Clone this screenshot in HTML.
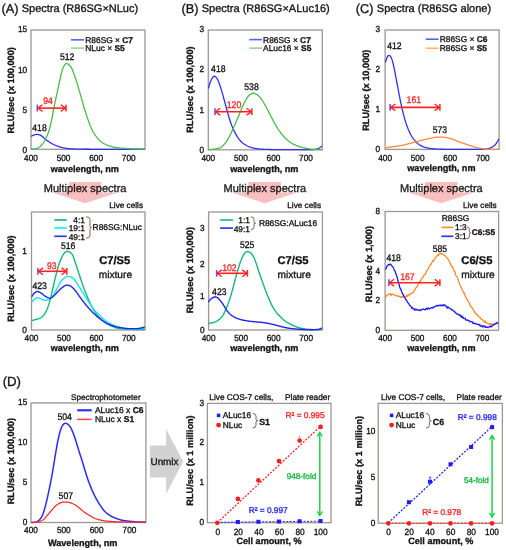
<!DOCTYPE html>
<html><head><meta charset="utf-8"><style>
html,body{margin:0;padding:0;background:#fff;}
svg{display:block;}
text{font-family:"Liberation Sans", sans-serif;stroke-width:0.32;paint-order:stroke;text-rendering:geometricPrecision;}
</style></head><body>
<svg width="506" height="550" viewBox="0 0 506 550">
<defs><filter id="bl" x="0" y="0" width="1" height="1"><feGaussianBlur stdDeviation="0.4"/></filter></defs>
<rect width="506" height="550" fill="#fff"/>
<g filter="url(#bl)">
<text x="1.40" y="12.56" font-size="12.75" text-anchor="start" fill="#141414" stroke="#141414">(A)</text>
<text x="21.70" y="11.94" font-size="11" text-anchor="start" fill="#141414" stroke="#141414">Spectra (R86SG×NLuc)</text>
<text x="181.40" y="12.56" font-size="12.75" text-anchor="start" fill="#141414" stroke="#141414">(B)</text>
<text x="201.70" y="11.94" font-size="11" text-anchor="start" fill="#141414" stroke="#141414">Spectra (R86SG×ALuc16)</text>
<text x="355.80" y="12.56" font-size="12.75" text-anchor="start" fill="#141414" stroke="#141414">(C)</text>
<text x="376.80" y="11.94" font-size="11" text-anchor="start" fill="#141414" stroke="#141414">Spectra (R86SG alone)</text>
<text transform="translate(27.20,32.19) scale(0.93,1)" x="0" y="0" font-size="8.9" text-anchor="end" fill="#141414" stroke="#141414">15</text>
<text transform="translate(27.20,72.59) scale(0.93,1)" x="0" y="0" font-size="8.9" text-anchor="end" fill="#141414" stroke="#141414">10</text>
<text transform="translate(27.20,112.89) scale(0.93,1)" x="0" y="0" font-size="8.9" text-anchor="end" fill="#141414" stroke="#141414">5</text>
<text transform="translate(27.20,152.89) scale(0.93,1)" x="0" y="0" font-size="8.9" text-anchor="end" fill="#141414" stroke="#141414">0</text>
<text transform="translate(31.00,161.39) scale(0.93,1)" x="0" y="0" font-size="8.9" text-anchor="middle" fill="#141414" stroke="#141414">400</text>
<text transform="translate(63.57,161.39) scale(0.93,1)" x="0" y="0" font-size="8.9" text-anchor="middle" fill="#141414" stroke="#141414">500</text>
<text transform="translate(96.14,161.39) scale(0.93,1)" x="0" y="0" font-size="8.9" text-anchor="middle" fill="#141414" stroke="#141414">600</text>
<text transform="translate(128.71,161.39) scale(0.93,1)" x="0" y="0" font-size="8.9" text-anchor="middle" fill="#141414" stroke="#141414">700</text>
<text transform="translate(14.29,90.30) rotate(-90)" x="0" y="0" font-size="9.2" text-anchor="middle" fill="#141414" stroke="#141414" font-weight="bold">RLU/sec (x 100,000)</text>
<text x="50.70" y="171.76" font-size="9.1" text-anchor="start" fill="#141414" stroke="#141414" font-weight="bold">wavelength, nm</text>
<rect x="31.00" y="30.00" width="114.00" height="119.30" fill="none" stroke="#9e9691" stroke-width="1.3"/>
<path d="M31.20,136.40 L31.70,136.09 L32.20,135.79 L32.70,135.53 L33.20,135.31 L33.70,135.13 L34.20,134.97 L34.70,134.80 L35.20,134.66 L35.70,134.54 L36.20,134.45 L36.70,134.40 L37.20,134.41 L37.70,134.45 L38.20,134.53 L38.70,134.64 L39.20,134.77 L39.70,134.91 L40.20,135.07 L40.70,135.30 L41.20,135.61 L41.70,135.98 L42.20,136.40 L42.70,136.85 L43.20,137.31 L43.70,137.76 L44.20,138.20 L44.70,138.60 L45.20,138.98 L45.70,139.37 L46.20,139.75 L46.70,140.14 L47.20,140.52 L47.70,140.89 L48.20,141.25 L48.70,141.60 L49.20,141.93 L49.70,142.26 L50.20,142.58 L50.70,142.89 L51.20,143.19 L51.70,143.49 L52.20,143.77 L52.70,144.04 L53.20,144.30 L53.70,144.54 L54.20,144.78 L54.70,145.00 L55.20,145.22 L55.70,145.43 L56.20,145.63 L56.70,145.83 L57.20,146.01 L57.70,146.19 L58.20,146.37 L58.70,146.54 L59.20,146.71 L59.70,146.87 L60.20,147.03 L60.70,147.18 L61.20,147.32 L61.70,147.45 L62.20,147.58 L62.70,147.69 L63.20,147.81 L63.70,147.91 L64.20,148.02 L64.70,148.11 L65.20,148.20 L65.70,148.29 L66.20,148.36 L66.70,148.42 L67.20,148.48 L67.70,148.54 L68.20,148.60 L68.70,148.65 L69.20,148.69 L69.70,148.74 L70.20,148.78 L70.70,148.82 L71.20,148.85 L71.70,148.88 L72.20,148.91 L72.70,148.94 L73.20,148.96 L73.70,148.99 L74.20,149.01 L74.70,149.04 L75.20,149.06 L75.70,149.08 L76.20,149.10 L76.70,149.12 L77.20,149.14 L77.70,149.15 L78.20,149.17 L78.70,149.18 L79.20,149.19 L79.70,149.20 L80.20,149.20 L80.70,149.21 L81.20,149.21 L81.70,149.22 L82.20,149.22 L82.70,149.22 L83.20,149.23 L83.70,149.23 L84.20,149.24 L84.70,149.24 L85.20,149.24 L85.70,149.25 L86.20,149.25 L86.70,149.26 L87.20,149.26 L87.70,149.26 L88.20,149.26 L88.70,149.27 L89.20,149.27 L89.70,149.27 L90.20,149.28 L90.70,149.28 L91.20,149.28 L91.70,149.28 L92.20,149.28 L92.70,149.29 L93.20,149.29 L93.70,149.29 L94.20,149.29 L94.70,149.29 L95.20,149.29 L95.70,149.30 L96.20,149.30 L96.70,149.30 L97.20,149.30 L97.70,149.30 L98.20,149.30 L98.70,149.30 L99.20,149.30 L99.70,149.30 L100.20,149.30 L100.70,149.30 L101.20,149.30 L101.70,149.30 L102.20,149.30 L102.70,149.30 L103.20,149.30 L103.70,149.30 L104.20,149.30 L104.70,149.30 L105.20,149.30 L105.70,149.30 L106.20,149.30 L106.70,149.30 L107.20,149.30 L107.70,149.30 L108.20,149.30 L108.70,149.30 L109.20,149.30 L109.70,149.30 L110.20,149.30 L110.70,149.30 L111.20,149.30 L111.70,149.30 L112.20,149.30 L112.70,149.30 L113.20,149.30 L113.70,149.30 L114.20,149.30 L114.70,149.30 L115.20,149.30 L115.70,149.30 L116.20,149.30 L116.70,149.30 L117.20,149.30 L117.70,149.30 L118.20,149.30 L118.70,149.30 L119.20,149.30 L119.70,149.30 L120.20,149.30 L120.70,149.30 L121.20,149.30 L121.70,149.30 L122.20,149.30 L122.70,149.30 L123.20,149.30 L123.70,149.30 L124.20,149.30 L124.70,149.30 L125.20,149.30 L125.70,149.30 L126.20,149.30 L126.70,149.30 L127.20,149.30 L127.70,149.30 L128.20,149.30 L128.70,149.30 L129.20,149.30 L129.70,149.30 L130.20,149.30 L130.70,149.30 L131.20,149.30 L131.70,149.30 L132.20,149.30 L132.70,149.30 L133.20,149.30 L133.70,149.30 L134.20,149.30 L134.70,149.30 L135.20,149.30 L135.70,149.30 L136.20,149.30 L136.70,149.30 L137.20,149.30 L137.70,149.30 L138.20,149.30 L138.70,149.30 L139.20,149.30 L139.70,149.30 L140.20,149.30 L140.70,149.30 L141.20,149.30 L141.70,149.30 L142.20,149.30 L142.70,149.30 L143.20,149.30 L143.70,149.30 L144.20,149.30 L144.70,149.30" fill="none" stroke="#2f2fff" stroke-width="1.3" stroke-linejoin="round"/>
<path d="M31.20,149.20 L31.70,149.19 L32.20,149.16 L32.70,149.12 L33.20,149.07 L33.70,149.01 L34.20,148.94 L34.70,148.87 L35.20,148.79 L35.70,148.68 L36.20,148.55 L36.70,148.41 L37.20,148.24 L37.70,148.06 L38.20,147.83 L38.70,147.55 L39.20,147.22 L39.70,146.84 L40.20,146.43 L40.70,145.98 L41.20,145.50 L41.70,145.00 L42.20,144.44 L42.70,143.80 L43.20,143.09 L43.70,142.31 L44.20,141.47 L44.70,140.58 L45.20,139.65 L45.70,138.69 L46.20,137.70 L46.70,136.63 L47.20,135.49 L47.70,134.26 L48.20,132.94 L48.70,131.52 L49.20,129.98 L49.70,128.23 L50.20,126.25 L50.70,124.11 L51.20,121.87 L51.70,119.56 L52.20,117.03 L52.70,114.35 L53.20,111.61 L53.70,108.93 L54.20,106.41 L54.70,103.98 L55.20,101.61 L55.70,99.26 L56.20,96.93 L56.70,94.60 L57.20,92.30 L57.70,90.02 L58.20,87.73 L58.70,85.43 L59.20,83.08 L59.70,80.66 L60.20,78.29 L60.70,76.07 L61.20,73.92 L61.70,71.90 L62.20,70.20 L62.70,68.78 L63.20,67.52 L63.70,66.49 L64.20,65.71 L64.70,65.00 L65.20,64.36 L65.70,63.86 L66.20,63.55 L66.70,63.51 L67.20,63.62 L67.70,63.84 L68.20,64.16 L68.70,64.55 L69.20,65.01 L69.70,65.52 L70.20,66.05 L70.70,66.62 L71.20,67.36 L71.70,68.32 L72.20,69.44 L72.70,70.69 L73.20,72.01 L73.70,73.35 L74.20,74.66 L74.70,76.02 L75.20,77.46 L75.70,78.97 L76.20,80.52 L76.70,82.11 L77.20,83.71 L77.70,85.32 L78.20,86.96 L78.70,88.63 L79.20,90.34 L79.70,92.07 L80.20,93.81 L80.70,95.56 L81.20,97.30 L81.70,99.07 L82.20,100.87 L82.70,102.69 L83.20,104.51 L83.70,106.29 L84.20,108.03 L84.70,109.70 L85.20,111.31 L85.70,112.88 L86.20,114.41 L86.70,115.91 L87.20,117.38 L87.70,118.81 L88.20,120.20 L88.70,121.58 L89.20,122.95 L89.70,124.30 L90.20,125.61 L90.70,126.86 L91.20,128.03 L91.70,129.10 L92.20,130.09 L92.70,131.03 L93.20,131.92 L93.70,132.77 L94.20,133.57 L94.70,134.33 L95.20,135.06 L95.70,135.76 L96.20,136.45 L96.70,137.12 L97.20,137.78 L97.70,138.41 L98.20,139.02 L98.70,139.59 L99.20,140.13 L99.70,140.63 L100.20,141.08 L100.70,141.48 L101.20,141.85 L101.70,142.21 L102.20,142.55 L102.70,142.87 L103.20,143.18 L103.70,143.48 L104.20,143.76 L104.70,144.03 L105.20,144.28 L105.70,144.52 L106.20,144.74 L106.70,144.95 L107.20,145.15 L107.70,145.34 L108.20,145.51 L108.70,145.69 L109.20,145.86 L109.70,146.02 L110.20,146.18 L110.70,146.33 L111.20,146.48 L111.70,146.62 L112.20,146.76 L112.70,146.89 L113.20,147.01 L113.70,147.12 L114.20,147.23 L114.70,147.33 L115.20,147.42 L115.70,147.50 L116.20,147.57 L116.70,147.64 L117.20,147.70 L117.70,147.76 L118.20,147.82 L118.70,147.87 L119.20,147.93 L119.70,147.98 L120.20,148.03 L120.70,148.08 L121.20,148.13 L121.70,148.17 L122.20,148.22 L122.70,148.26 L123.20,148.30 L123.70,148.34 L124.20,148.38 L124.70,148.41 L125.20,148.45 L125.70,148.48 L126.20,148.51 L126.70,148.54 L127.20,148.57 L127.70,148.59 L128.20,148.62 L128.70,148.64 L129.20,148.67 L129.70,148.69 L130.20,148.71 L130.70,148.73 L131.20,148.75 L131.70,148.77 L132.20,148.79 L132.70,148.81 L133.20,148.83 L133.70,148.85 L134.20,148.86 L134.70,148.88 L135.20,148.90 L135.70,148.92 L136.20,148.93 L136.70,148.95 L137.20,148.97 L137.70,148.98 L138.20,149.00 L138.70,149.01 L139.20,149.02 L139.70,149.03 L140.20,149.05 L140.70,149.06 L141.20,149.07 L141.70,149.07 L142.20,149.08 L142.70,149.09 L143.20,149.09 L143.70,149.10 L144.20,149.10 L144.70,149.10" fill="none" stroke="#48bd48" stroke-width="1.3" stroke-linejoin="round"/>
<line x1="71.00" y1="39.85" x2="84.00" y2="39.85" stroke="#5d5dff" stroke-width="1.6"/>
<line x1="71.00" y1="48.10" x2="84.00" y2="48.10" stroke="#6cc86c" stroke-width="1.2"/>
<text x="85.30" y="42.61" font-size="8.4" fill="#141414" stroke="#141414" xml:space="preserve"><tspan>R86SG × </tspan><tspan font-weight="bold">C7</tspan></text>
<text x="85.30" y="50.91" font-size="8.4" fill="#141414" stroke="#141414" xml:space="preserve"><tspan>NLuc × </tspan><tspan font-weight="bold">S5</tspan></text>
<text transform="translate(67.10,60.14) scale(0.9,1)" x="0" y="0" font-size="9.6" text-anchor="middle" fill="#141414" stroke="#141414">512</text>
<text transform="translate(39.50,130.94) scale(0.9,1)" x="0" y="0" font-size="9.6" text-anchor="middle" fill="#141414" stroke="#141414">418</text>
<line x1="37.30" y1="108.10" x2="66.00" y2="108.10" stroke="#ff2424" stroke-width="1.6"/>
<path d="M42.50,104.70 L37.90,108.10 L42.50,111.50" fill="none" stroke="#ff2424" stroke-width="1.4"/>
<path d="M60.80,104.70 L65.40,108.10 L60.80,111.50" fill="none" stroke="#ff2424" stroke-width="1.4"/>
<line x1="37.30" y1="104.70" x2="37.30" y2="111.50" stroke="#7b3fd0" stroke-width="1.5"/>
<line x1="66.00" y1="104.70" x2="66.00" y2="111.50" stroke="#ff2424" stroke-width="1.5"/>
<text transform="translate(48.10,104.34) scale(0.9,1)" x="0" y="0" font-size="9.6" text-anchor="middle" fill="#ff2424" stroke="#ff2424" stroke-width="0.12">94</text>
<text transform="translate(204.00,32.29) scale(0.93,1)" x="0" y="0" font-size="8.9" text-anchor="end" fill="#141414" stroke="#141414">3</text>
<text transform="translate(204.00,72.39) scale(0.93,1)" x="0" y="0" font-size="8.9" text-anchor="end" fill="#141414" stroke="#141414">2</text>
<text transform="translate(204.00,112.89) scale(0.93,1)" x="0" y="0" font-size="8.9" text-anchor="end" fill="#141414" stroke="#141414">1</text>
<text transform="translate(204.00,153.09) scale(0.93,1)" x="0" y="0" font-size="8.9" text-anchor="end" fill="#141414" stroke="#141414">0</text>
<text transform="translate(208.30,161.49) scale(0.93,1)" x="0" y="0" font-size="8.9" text-anchor="middle" fill="#141414" stroke="#141414">400</text>
<text transform="translate(240.87,161.49) scale(0.93,1)" x="0" y="0" font-size="8.9" text-anchor="middle" fill="#141414" stroke="#141414">500</text>
<text transform="translate(273.44,161.49) scale(0.93,1)" x="0" y="0" font-size="8.9" text-anchor="middle" fill="#141414" stroke="#141414">600</text>
<text transform="translate(306.01,161.49) scale(0.93,1)" x="0" y="0" font-size="8.9" text-anchor="middle" fill="#141414" stroke="#141414">700</text>
<text transform="translate(193.39,89.60) rotate(-90)" x="0" y="0" font-size="9.2" text-anchor="middle" fill="#141414" stroke="#141414" font-weight="bold">RLU/sec (x 100,000)</text>
<text x="230.20" y="171.56" font-size="9.1" text-anchor="start" fill="#141414" stroke="#141414" font-weight="bold">wavelength, nm</text>
<rect x="208.30" y="30.00" width="114.00" height="119.80" fill="none" stroke="#9e9691" stroke-width="1.3"/>
<path d="M208.40,88.50 L208.90,86.62 L209.40,84.85 L209.90,83.24 L210.40,81.84 L210.90,80.70 L211.40,79.74 L211.90,78.80 L212.40,77.92 L212.90,77.16 L213.40,76.57 L213.90,76.20 L214.40,76.11 L214.90,76.27 L215.40,76.63 L215.90,77.14 L216.40,77.73 L216.90,78.37 L217.40,79.10 L217.90,80.05 L218.40,81.19 L218.90,82.48 L219.40,83.85 L219.90,85.26 L220.40,86.67 L220.90,88.21 L221.40,89.86 L221.90,91.59 L222.40,93.37 L222.90,95.15 L223.40,96.93 L223.90,98.77 L224.40,100.64 L224.90,102.53 L225.40,104.42 L225.90,106.29 L226.40,108.14 L226.90,110.00 L227.40,111.87 L227.90,113.71 L228.40,115.49 L228.90,117.18 L229.40,118.77 L229.90,120.32 L230.40,121.81 L230.90,123.25 L231.40,124.62 L231.90,125.91 L232.40,127.12 L232.90,128.27 L233.40,129.37 L233.90,130.42 L234.40,131.42 L234.90,132.39 L235.40,133.32 L235.90,134.22 L236.40,135.11 L236.90,135.97 L237.40,136.81 L237.90,137.60 L238.40,138.34 L238.90,139.02 L239.40,139.64 L239.90,140.23 L240.40,140.78 L240.90,141.31 L241.40,141.81 L241.90,142.28 L242.40,142.73 L242.90,143.14 L243.40,143.53 L243.90,143.89 L244.40,144.24 L244.90,144.57 L245.40,144.89 L245.90,145.20 L246.40,145.49 L246.90,145.76 L247.40,146.02 L247.90,146.26 L248.40,146.48 L248.90,146.68 L249.40,146.87 L249.90,147.05 L250.40,147.23 L250.90,147.39 L251.40,147.55 L251.90,147.70 L252.40,147.83 L252.90,147.96 L253.40,148.08 L253.90,148.18 L254.40,148.28 L254.90,148.37 L255.40,148.46 L255.90,148.55 L256.40,148.63 L256.90,148.71 L257.40,148.78 L257.90,148.85 L258.40,148.91 L258.90,148.97 L259.40,149.02 L259.90,149.06 L260.40,149.09 L260.90,149.12 L261.40,149.15 L261.90,149.17 L262.40,149.20 L262.90,149.22 L263.40,149.25 L263.90,149.27 L264.40,149.29 L264.90,149.32 L265.40,149.34 L265.90,149.36 L266.40,149.38 L266.90,149.40 L267.40,149.42 L267.90,149.43 L268.40,149.45 L268.90,149.47 L269.40,149.48 L269.90,149.50 L270.40,149.51 L270.90,149.52 L271.40,149.53 L271.90,149.54 L272.40,149.55 L272.90,149.56 L273.40,149.57 L273.90,149.58 L274.40,149.58 L274.90,149.59 L275.40,149.59 L275.90,149.60 L276.40,149.60 L276.90,149.60 L277.40,149.60 L277.90,149.60 L278.40,149.60 L278.90,149.60 L279.40,149.60 L279.90,149.60 L280.40,149.60 L280.90,149.60 L281.40,149.60 L281.90,149.60 L282.40,149.60 L282.90,149.60 L283.40,149.60 L283.90,149.60 L284.40,149.60 L284.90,149.60 L285.40,149.60 L285.90,149.60 L286.40,149.60 L286.90,149.60 L287.40,149.60 L287.90,149.60 L288.40,149.60 L288.90,149.60 L289.40,149.60 L289.90,149.60 L290.40,149.60 L290.90,149.60 L291.40,149.60 L291.90,149.60 L292.40,149.60 L292.90,149.60 L293.40,149.60 L293.90,149.60 L294.40,149.60 L294.90,149.60 L295.40,149.60 L295.90,149.60 L296.40,149.60 L296.90,149.60 L297.40,149.60 L297.90,149.60 L298.40,149.60 L298.90,149.60 L299.40,149.60 L299.90,149.60 L300.40,149.60 L300.90,149.60 L301.40,149.60 L301.90,149.60 L302.40,149.60 L302.90,149.60 L303.40,149.60 L303.90,149.60 L304.40,149.60 L304.90,149.60 L305.40,149.60 L305.90,149.60 L306.40,149.60 L306.90,149.60 L307.40,149.60 L307.90,149.60 L308.40,149.60 L308.90,149.60 L309.40,149.60 L309.90,149.60 L310.40,149.60 L310.90,149.60 L311.40,149.60 L311.90,149.60 L312.40,149.60 L312.90,149.60 L313.40,149.57 L313.90,149.53 L314.40,149.46 L314.90,149.38 L315.40,149.28 L315.90,149.17 L316.40,149.05 L316.90,148.93 L317.40,148.79 L317.90,148.61 L318.40,148.39 L318.90,148.14 L319.40,147.85 L319.90,147.54 L320.40,147.20 L320.90,146.83 L321.40,146.45 L321.90,146.05" fill="none" stroke="#2f2fff" stroke-width="1.3" stroke-linejoin="round"/>
<path d="M208.40,149.60 L208.90,149.58 L209.40,149.56 L209.90,149.53 L210.40,149.49 L210.90,149.45 L211.40,149.40 L211.90,149.35 L212.40,149.29 L212.90,149.24 L213.40,149.18 L213.90,149.11 L214.40,149.05 L214.90,148.98 L215.40,148.90 L215.90,148.82 L216.40,148.73 L216.90,148.63 L217.40,148.52 L217.90,148.40 L218.40,148.27 L218.90,148.13 L219.40,147.98 L219.90,147.81 L220.40,147.62 L220.90,147.37 L221.40,147.05 L221.90,146.67 L222.40,146.25 L222.90,145.77 L223.40,145.27 L223.90,144.73 L224.40,144.18 L224.90,143.61 L225.40,143.02 L225.90,142.36 L226.40,141.64 L226.90,140.86 L227.40,140.04 L227.90,139.18 L228.40,138.29 L228.90,137.38 L229.40,136.46 L229.90,135.53 L230.40,134.55 L230.90,133.53 L231.40,132.47 L231.90,131.38 L232.40,130.27 L232.90,129.14 L233.40,128.00 L233.90,126.86 L234.40,125.73 L234.90,124.59 L235.40,123.45 L235.90,122.29 L236.40,121.12 L236.90,119.94 L237.40,118.76 L237.90,117.58 L238.40,116.39 L238.90,115.21 L239.40,114.03 L239.90,112.82 L240.40,111.60 L240.90,110.38 L241.40,109.17 L241.90,107.97 L242.40,106.82 L242.90,105.71 L243.40,104.65 L243.90,103.59 L244.40,102.56 L244.90,101.57 L245.40,100.62 L245.90,99.74 L246.40,98.95 L246.90,98.17 L247.40,97.42 L247.90,96.71 L248.40,96.06 L248.90,95.51 L249.40,95.07 L249.90,94.73 L250.40,94.39 L250.90,94.07 L251.40,93.79 L251.90,93.55 L252.40,93.36 L252.90,93.24 L253.40,93.20 L253.90,93.24 L254.40,93.35 L254.90,93.53 L255.40,93.74 L255.90,94.00 L256.40,94.27 L256.90,94.54 L257.40,94.85 L257.90,95.22 L258.40,95.65 L258.90,96.13 L259.40,96.65 L259.90,97.21 L260.40,97.78 L260.90,98.39 L261.40,99.06 L261.90,99.79 L262.40,100.57 L262.90,101.39 L263.40,102.23 L263.90,103.09 L264.40,103.96 L264.90,104.83 L265.40,105.70 L265.90,106.60 L266.40,107.53 L266.90,108.48 L267.40,109.45 L267.90,110.42 L268.40,111.40 L268.90,112.38 L269.40,113.35 L269.90,114.31 L270.40,115.26 L270.90,116.22 L271.40,117.19 L271.90,118.16 L272.40,119.12 L272.90,120.07 L273.40,121.01 L273.90,121.93 L274.40,122.82 L274.90,123.70 L275.40,124.56 L275.90,125.42 L276.40,126.27 L276.90,127.11 L277.40,127.92 L277.90,128.72 L278.40,129.49 L278.90,130.24 L279.40,130.96 L279.90,131.65 L280.40,132.34 L280.90,133.01 L281.40,133.66 L281.90,134.30 L282.40,134.92 L282.90,135.52 L283.40,136.10 L283.90,136.66 L284.40,137.19 L284.90,137.70 L285.40,138.19 L285.90,138.66 L286.40,139.13 L286.90,139.58 L287.40,140.02 L287.90,140.45 L288.40,140.86 L288.90,141.26 L289.40,141.64 L289.90,142.01 L290.40,142.36 L290.90,142.69 L291.40,143.00 L291.90,143.30 L292.40,143.59 L292.90,143.87 L293.40,144.15 L293.90,144.41 L294.40,144.67 L294.90,144.92 L295.40,145.15 L295.90,145.38 L296.40,145.59 L296.90,145.79 L297.40,145.99 L297.90,146.17 L298.40,146.34 L298.90,146.50 L299.40,146.66 L299.90,146.81 L300.40,146.96 L300.90,147.10 L301.40,147.24 L301.90,147.37 L302.40,147.49 L302.90,147.62 L303.40,147.73 L303.90,147.85 L304.40,147.96 L304.90,148.06 L305.40,148.16 L305.90,148.26 L306.40,148.36 L306.90,148.45 L307.40,148.55 L307.90,148.64 L308.40,148.73 L308.90,148.82 L309.40,148.90 L309.90,148.98 L310.40,149.04 L310.90,149.10 L311.40,149.15 L311.90,149.19 L312.40,149.23 L312.90,149.26 L313.40,149.29 L313.90,149.32 L314.40,149.35 L314.90,149.38 L315.40,149.40 L315.90,149.43 L316.40,149.45 L316.90,149.48 L317.40,149.50 L317.90,149.52 L318.40,149.53 L318.90,149.55 L319.40,149.56 L319.90,149.57 L320.40,149.58 L320.90,149.59 L321.40,149.60 L321.90,149.60" fill="none" stroke="#48bd48" stroke-width="1.3" stroke-linejoin="round"/>
<line x1="249.40" y1="39.60" x2="262.00" y2="39.60" stroke="#5d5dff" stroke-width="1.6"/>
<line x1="249.40" y1="48.10" x2="262.00" y2="48.10" stroke="#6cc86c" stroke-width="1.2"/>
<text x="263.10" y="42.61" font-size="8.4" fill="#141414" stroke="#141414" xml:space="preserve"><tspan>R86SG × </tspan><tspan font-weight="bold">C7</tspan></text>
<text x="263.10" y="51.11" font-size="8.4" fill="#141414" stroke="#141414" xml:space="preserve"><tspan>ALuc16 × </tspan><tspan font-weight="bold">S5</tspan></text>
<text transform="translate(218.30,71.74) scale(0.9,1)" x="0" y="0" font-size="9.6" text-anchor="middle" fill="#141414" stroke="#141414">418</text>
<text transform="translate(251.50,90.04) scale(0.9,1)" x="0" y="0" font-size="9.6" text-anchor="middle" fill="#141414" stroke="#141414">538</text>
<line x1="215.00" y1="111.70" x2="251.80" y2="111.70" stroke="#ff2424" stroke-width="1.6"/>
<path d="M220.20,108.30 L215.60,111.70 L220.20,115.10" fill="none" stroke="#ff2424" stroke-width="1.4"/>
<path d="M246.60,108.30 L251.20,111.70 L246.60,115.10" fill="none" stroke="#ff2424" stroke-width="1.4"/>
<line x1="215.00" y1="108.30" x2="215.00" y2="115.10" stroke="#7b3fd0" stroke-width="1.5"/>
<line x1="251.80" y1="108.30" x2="251.80" y2="115.10" stroke="#ff2424" stroke-width="1.5"/>
<text transform="translate(234.00,107.84) scale(0.9,1)" x="0" y="0" font-size="9.6" text-anchor="middle" fill="#ff2424" stroke="#ff2424" stroke-width="0.12">120</text>
<text transform="translate(380.00,32.39) scale(0.93,1)" x="0" y="0" font-size="8.9" text-anchor="end" fill="#141414" stroke="#141414">3</text>
<text transform="translate(380.00,72.39) scale(0.93,1)" x="0" y="0" font-size="8.9" text-anchor="end" fill="#141414" stroke="#141414">2</text>
<text transform="translate(380.00,112.29) scale(0.93,1)" x="0" y="0" font-size="8.9" text-anchor="end" fill="#141414" stroke="#141414">1</text>
<text transform="translate(380.00,152.39) scale(0.93,1)" x="0" y="0" font-size="8.9" text-anchor="end" fill="#141414" stroke="#141414">0</text>
<text transform="translate(385.10,161.49) scale(0.93,1)" x="0" y="0" font-size="8.9" text-anchor="middle" fill="#141414" stroke="#141414">400</text>
<text transform="translate(417.67,161.49) scale(0.93,1)" x="0" y="0" font-size="8.9" text-anchor="middle" fill="#141414" stroke="#141414">500</text>
<text transform="translate(450.24,161.49) scale(0.93,1)" x="0" y="0" font-size="8.9" text-anchor="middle" fill="#141414" stroke="#141414">600</text>
<text transform="translate(482.81,161.49) scale(0.93,1)" x="0" y="0" font-size="8.9" text-anchor="middle" fill="#141414" stroke="#141414">700</text>
<text transform="translate(368.89,90.20) rotate(-90)" x="0" y="0" font-size="9.2" text-anchor="middle" fill="#141414" stroke="#141414" font-weight="bold">RLU/sec (x 10,000)</text>
<text x="407.30" y="171.06" font-size="9.1" text-anchor="start" fill="#141414" stroke="#141414" font-weight="bold">wavelength, nm</text>
<rect x="385.10" y="30.00" width="114.00" height="119.40" fill="none" stroke="#9e9691" stroke-width="1.3"/>
<path d="M385.40,62.40 L385.90,60.52 L386.40,58.90 L386.90,57.68 L387.40,56.82 L387.90,56.06 L388.40,55.51 L388.90,55.30 L389.40,55.46 L389.90,55.87 L390.40,56.43 L390.90,57.09 L391.40,58.08 L391.90,59.39 L392.40,60.89 L392.90,62.62 L393.40,64.74 L393.90,67.08 L394.40,69.46 L394.90,71.98 L395.40,74.62 L395.90,77.28 L396.40,79.90 L396.90,82.54 L397.40,85.19 L397.90,87.83 L398.40,90.50 L398.90,93.17 L399.40,95.78 L399.90,98.30 L400.40,100.77 L400.90,103.17 L401.40,105.50 L401.90,107.79 L402.40,110.03 L402.90,112.17 L403.40,114.19 L403.90,116.11 L404.40,117.93 L404.90,119.66 L405.40,121.31 L405.90,122.87 L406.40,124.35 L406.90,125.75 L407.40,127.10 L407.90,128.39 L408.40,129.62 L408.90,130.78 L409.40,131.87 L409.90,132.92 L410.40,133.92 L410.90,134.86 L411.40,135.73 L411.90,136.55 L412.40,137.33 L412.90,138.08 L413.40,138.79 L413.90,139.46 L414.40,140.09 L414.90,140.69 L415.40,141.25 L415.90,141.79 L416.40,142.31 L416.90,142.80 L417.40,143.26 L417.90,143.68 L418.40,144.06 L418.90,144.40 L419.40,144.73 L419.90,145.04 L420.40,145.34 L420.90,145.63 L421.40,145.89 L421.90,146.14 L422.40,146.38 L422.90,146.59 L423.40,146.79 L423.90,146.97 L424.40,147.13 L424.90,147.28 L425.40,147.44 L425.90,147.58 L426.40,147.72 L426.90,147.85 L427.40,147.97 L427.90,148.08 L428.40,148.18 L428.90,148.28 L429.40,148.36 L429.90,148.44 L430.40,148.50 L430.90,148.56 L431.40,148.61 L431.90,148.66 L432.40,148.71 L432.90,148.76 L433.40,148.81 L433.90,148.85 L434.40,148.90 L434.90,148.94 L435.40,148.97 L435.90,149.01 L436.40,149.04 L436.90,149.07 L437.40,149.10 L437.90,149.12 L438.40,149.15 L438.90,149.17 L439.40,149.18 L439.90,149.20 L440.40,149.21 L440.90,149.22 L441.40,149.23 L441.90,149.25 L442.40,149.26 L442.90,149.27 L443.40,149.28 L443.90,149.29 L444.40,149.30 L444.90,149.31 L445.40,149.32 L445.90,149.33 L446.40,149.33 L446.90,149.34 L447.40,149.35 L447.90,149.36 L448.40,149.36 L448.90,149.37 L449.40,149.37 L449.90,149.38 L450.40,149.38 L450.90,149.39 L451.40,149.39 L451.90,149.39 L452.40,149.40 L452.90,149.40 L453.40,149.40 L453.90,149.40 L454.40,149.40 L454.90,149.40 L455.40,149.40 L455.90,149.40 L456.40,149.40 L456.90,149.40 L457.40,149.40 L457.90,149.40 L458.40,149.40 L458.90,149.40 L459.40,149.40 L459.90,149.40 L460.40,149.40 L460.90,149.40 L461.40,149.40 L461.90,149.40 L462.40,149.40 L462.90,149.40 L463.40,149.40 L463.90,149.40 L464.40,149.40 L464.90,149.40 L465.40,149.40 L465.90,149.40 L466.40,149.40 L466.90,149.40 L467.40,149.40 L467.90,149.40 L468.40,149.40 L468.90,149.40 L469.40,149.40 L469.90,149.40 L470.40,149.40 L470.90,149.40 L471.40,149.40 L471.90,149.40 L472.40,149.40 L472.90,149.40 L473.40,149.40 L473.90,149.40 L474.40,149.40 L474.90,149.40 L475.40,149.40 L475.90,149.40 L476.40,149.40 L476.90,149.40 L477.40,149.40 L477.90,149.40 L478.40,149.40 L478.90,149.40 L479.40,149.40 L479.90,149.40 L480.40,149.40 L480.90,149.39 L481.40,149.37 L481.90,149.35 L482.40,149.32 L482.90,149.29 L483.40,149.25 L483.90,149.21 L484.40,149.16 L484.90,149.10 L485.40,149.05 L485.90,148.99 L486.40,148.92 L486.90,148.86 L487.40,148.79 L487.90,148.69 L488.40,148.57 L488.90,148.42 L489.40,148.25 L489.90,148.06 L490.40,147.85 L490.90,147.64 L491.40,147.42 L491.90,147.17 L492.40,146.90 L492.90,146.59 L493.40,146.26 L493.90,145.89 L494.40,145.49 L494.90,145.02 L495.40,144.45 L495.90,143.80 L496.40,143.09 L496.90,142.35 L497.40,141.58 L497.90,140.74 L498.40,139.84 L498.90,138.89" fill="none" stroke="#2f2fff" stroke-width="1.3" stroke-linejoin="round"/>
<path d="M385.40,147.80 L385.90,147.73 L386.40,147.66 L386.90,147.58 L387.40,147.51 L387.90,147.44 L388.40,147.37 L388.90,147.29 L389.40,147.22 L389.90,147.15 L390.40,147.08 L390.90,147.00 L391.40,146.93 L391.90,146.86 L392.40,146.79 L392.90,146.71 L393.40,146.64 L393.90,146.57 L394.40,146.50 L394.90,146.44 L395.40,146.37 L395.90,146.31 L396.40,146.24 L396.90,146.17 L397.40,146.11 L397.90,146.04 L398.40,145.97 L398.90,145.90 L399.40,145.83 L399.90,145.75 L400.40,145.67 L400.90,145.59 L401.40,145.51 L401.90,145.42 L402.40,145.32 L402.90,145.22 L403.40,145.12 L403.90,145.00 L404.40,144.88 L404.90,144.76 L405.40,144.64 L405.90,144.51 L406.40,144.38 L406.90,144.25 L407.40,144.11 L407.90,143.98 L408.40,143.85 L408.90,143.73 L409.40,143.60 L409.90,143.47 L410.40,143.34 L410.90,143.21 L411.40,143.08 L411.90,142.95 L412.40,142.81 L412.90,142.68 L413.40,142.55 L413.90,142.41 L414.40,142.28 L414.90,142.15 L415.40,142.01 L415.90,141.88 L416.40,141.75 L416.90,141.61 L417.40,141.48 L417.90,141.34 L418.40,141.21 L418.90,141.07 L419.40,140.94 L419.90,140.80 L420.40,140.67 L420.90,140.54 L421.40,140.41 L421.90,140.28 L422.40,140.15 L422.90,140.02 L423.40,139.90 L423.90,139.78 L424.40,139.66 L424.90,139.54 L425.40,139.41 L425.90,139.30 L426.40,139.18 L426.90,139.06 L427.40,138.95 L427.90,138.83 L428.40,138.72 L428.90,138.61 L429.40,138.51 L429.90,138.40 L430.40,138.30 L430.90,138.20 L431.40,138.09 L431.90,137.98 L432.40,137.87 L432.90,137.77 L433.40,137.66 L433.90,137.57 L434.40,137.48 L434.90,137.41 L435.40,137.35 L435.90,137.31 L436.40,137.27 L436.90,137.24 L437.40,137.22 L437.90,137.19 L438.40,137.17 L438.90,137.15 L439.40,137.13 L439.90,137.11 L440.40,137.10 L440.90,137.10 L441.40,137.10 L441.90,137.12 L442.40,137.15 L442.90,137.19 L443.40,137.25 L443.90,137.31 L444.40,137.37 L444.90,137.44 L445.40,137.51 L445.90,137.59 L446.40,137.66 L446.90,137.75 L447.40,137.84 L447.90,137.95 L448.40,138.06 L448.90,138.18 L449.40,138.31 L449.90,138.45 L450.40,138.59 L450.90,138.73 L451.40,138.88 L451.90,139.03 L452.40,139.19 L452.90,139.37 L453.40,139.57 L453.90,139.77 L454.40,139.98 L454.90,140.20 L455.40,140.42 L455.90,140.64 L456.40,140.85 L456.90,141.07 L457.40,141.27 L457.90,141.46 L458.40,141.65 L458.90,141.83 L459.40,142.00 L459.90,142.18 L460.40,142.35 L460.90,142.52 L461.40,142.68 L461.90,142.85 L462.40,143.02 L462.90,143.18 L463.40,143.34 L463.90,143.51 L464.40,143.67 L464.90,143.83 L465.40,144.00 L465.90,144.17 L466.40,144.33 L466.90,144.51 L467.40,144.68 L467.90,144.85 L468.40,145.02 L468.90,145.19 L469.40,145.36 L469.90,145.53 L470.40,145.70 L470.90,145.86 L471.40,146.02 L471.90,146.17 L472.40,146.32 L472.90,146.47 L473.40,146.62 L473.90,146.76 L474.40,146.91 L474.90,147.05 L475.40,147.18 L475.90,147.32 L476.40,147.45 L476.90,147.57 L477.40,147.69 L477.90,147.80 L478.40,147.91 L478.90,148.01 L479.40,148.12 L479.90,148.22 L480.40,148.32 L480.90,148.42 L481.40,148.51 L481.90,148.60 L482.40,148.68 L482.90,148.75 L483.40,148.82 L483.90,148.89 L484.40,148.95 L484.90,149.01 L485.40,149.07 L485.90,149.13 L486.40,149.19 L486.90,149.24 L487.40,149.29 L487.90,149.33 L488.40,149.36 L488.90,149.38 L489.40,149.40 L489.90,149.40 L490.40,149.40 L490.90,149.40 L491.40,149.40 L491.90,149.40 L492.40,149.40 L492.90,149.40 L493.40,149.40 L493.90,149.40 L494.40,149.40 L494.90,149.40 L495.40,149.40 L495.90,149.40 L496.40,149.40 L496.90,149.40 L497.40,149.40 L497.90,149.40 L498.40,149.40 L498.90,149.40" fill="none" stroke="#ff8a3a" stroke-width="1.3" stroke-linejoin="round"/>
<line x1="425.70" y1="39.20" x2="438.60" y2="39.20" stroke="#5d5dff" stroke-width="1.6"/>
<line x1="425.70" y1="48.20" x2="438.60" y2="48.20" stroke="#ffa26a" stroke-width="1.3"/>
<text x="439.70" y="42.41" font-size="8.4" fill="#141414" stroke="#141414" xml:space="preserve"><tspan>R86SG × </tspan><tspan font-weight="bold">C6</tspan></text>
<text x="439.70" y="51.21" font-size="8.4" fill="#141414" stroke="#141414" xml:space="preserve"><tspan>R86SG × </tspan><tspan font-weight="bold">S5</tspan></text>
<text transform="translate(394.40,49.24) scale(0.9,1)" x="0" y="0" font-size="9.6" text-anchor="middle" fill="#141414" stroke="#141414">412</text>
<text transform="translate(439.90,133.44) scale(0.9,1)" x="0" y="0" font-size="9.6" text-anchor="middle" fill="#141414" stroke="#141414">573</text>
<line x1="390.10" y1="107.40" x2="439.90" y2="107.40" stroke="#ff2424" stroke-width="1.6"/>
<path d="M395.30,104.00 L390.70,107.40 L395.30,110.80" fill="none" stroke="#ff2424" stroke-width="1.4"/>
<path d="M434.70,104.00 L439.30,107.40 L434.70,110.80" fill="none" stroke="#ff2424" stroke-width="1.4"/>
<line x1="390.10" y1="104.00" x2="390.10" y2="110.80" stroke="#7b3fd0" stroke-width="1.5"/>
<line x1="439.90" y1="104.00" x2="439.90" y2="110.80" stroke="#ff2424" stroke-width="1.5"/>
<text transform="translate(413.80,103.14) scale(0.9,1)" x="0" y="0" font-size="9.6" text-anchor="middle" fill="#ff2424" stroke="#ff2424" stroke-width="0.12">161</text>
<path d="M68.80,182 L101.40,182 L101.40,192.6 L117.70,192.6 L85.10,203.3 L52.50,192.6 L68.80,192.6 Z" fill="#f7bfbf"/>
<text transform="translate(43.80,191.81) scale(0.985,1)" x="0" y="0" font-size="11.2" text-anchor="start" fill="#1e1616" stroke="#1e1616" stroke-width="0.12">Multiplex spectra</text>
<path d="M248.30,182 L280.90,182 L280.90,192.6 L297.20,192.6 L264.60,203.3 L232.00,192.6 L248.30,192.6 Z" fill="#f7bfbf"/>
<text transform="translate(223.50,191.81) scale(0.985,1)" x="0" y="0" font-size="11.2" text-anchor="start" fill="#1e1616" stroke="#1e1616" stroke-width="0.12">Multiplex spectra</text>
<path d="M424.90,182 L457.50,182 L457.50,192.6 L473.80,192.6 L441.20,203.3 L408.60,192.6 L424.90,192.6 Z" fill="#f7bfbf"/>
<text transform="translate(400.00,191.81) scale(0.985,1)" x="0" y="0" font-size="11.2" text-anchor="start" fill="#1e1616" stroke="#1e1616" stroke-width="0.12">Multiplex spectra</text>
<text x="109.30" y="207.54" font-size="8.2" text-anchor="start" fill="#141414" stroke="#141414">Live cells</text>
<text x="287.30" y="207.74" font-size="8.2" text-anchor="start" fill="#141414" stroke="#141414">Live cells</text>
<text x="463.00" y="207.74" font-size="8.2" text-anchor="start" fill="#141414" stroke="#141414">Live cells</text>
<text transform="translate(26.90,253.59) scale(0.93,1)" x="0" y="0" font-size="8.9" text-anchor="end" fill="#141414" stroke="#141414">1</text>
<text transform="translate(26.90,333.29) scale(0.93,1)" x="0" y="0" font-size="8.9" text-anchor="end" fill="#141414" stroke="#141414">0</text>
<text transform="translate(31.50,341.19) scale(0.93,1)" x="0" y="0" font-size="8.9" text-anchor="middle" fill="#141414" stroke="#141414">400</text>
<text transform="translate(63.93,341.19) scale(0.93,1)" x="0" y="0" font-size="8.9" text-anchor="middle" fill="#141414" stroke="#141414">500</text>
<text transform="translate(96.36,341.19) scale(0.93,1)" x="0" y="0" font-size="8.9" text-anchor="middle" fill="#141414" stroke="#141414">600</text>
<text transform="translate(128.79,341.19) scale(0.93,1)" x="0" y="0" font-size="8.9" text-anchor="middle" fill="#141414" stroke="#141414">700</text>
<text transform="translate(13.99,278.50) rotate(-90)" x="0" y="0" font-size="9.2" text-anchor="middle" fill="#141414" stroke="#141414" font-weight="bold">RLU/sec (x 100,000)</text>
<text x="50.70" y="351.26" font-size="9.1" text-anchor="start" fill="#141414" stroke="#141414" font-weight="bold">wavelength, nm</text>
<rect x="31.50" y="212.00" width="113.50" height="118.00" fill="none" stroke="#9e9691" stroke-width="1.3"/>
<path d="M31.70,320.70 L32.20,320.54 L32.70,320.39 L33.20,320.24 L33.70,320.09 L34.20,319.93 L34.70,319.78 L35.20,319.64 L35.70,319.49 L36.20,319.34 L36.70,319.21 L37.20,319.08 L37.70,318.96 L38.20,318.83 L38.70,318.68 L39.20,318.51 L39.70,318.32 L40.20,318.08 L40.70,317.81 L41.20,317.49 L41.70,317.14 L42.20,316.75 L42.70,316.32 L43.20,315.79 L43.70,315.18 L44.20,314.49 L44.70,313.75 L45.20,312.95 L45.70,312.05 L46.20,311.06 L46.70,310.00 L47.20,308.85 L47.70,307.60 L48.20,306.25 L48.70,304.80 L49.20,303.23 L49.70,301.50 L50.20,299.64 L50.70,297.70 L51.20,295.66 L51.70,293.45 L52.20,291.14 L52.70,288.84 L53.20,286.62 L53.70,284.44 L54.20,282.29 L54.70,280.16 L55.20,278.09 L55.70,276.03 L56.20,274.00 L56.70,272.05 L57.20,270.20 L57.70,268.45 L58.20,266.77 L58.70,265.17 L59.20,263.68 L59.70,262.30 L60.20,261.00 L60.70,259.78 L61.20,258.64 L61.70,257.55 L62.20,256.50 L62.70,255.52 L63.20,254.65 L63.70,253.92 L64.20,253.23 L64.70,252.61 L65.20,252.14 L65.70,251.86 L66.20,251.68 L66.70,251.53 L67.20,251.44 L67.70,251.40 L68.20,251.46 L68.70,251.64 L69.20,251.89 L69.70,252.19 L70.20,252.50 L70.70,252.84 L71.20,253.26 L71.70,253.77 L72.20,254.37 L72.70,255.10 L73.20,256.22 L73.70,257.76 L74.20,259.40 L74.70,260.86 L75.20,262.29 L75.70,263.71 L76.20,265.14 L76.70,266.60 L77.20,268.11 L77.70,269.67 L78.20,271.26 L78.70,272.87 L79.20,274.46 L79.70,276.01 L80.20,277.54 L80.70,279.06 L81.20,280.58 L81.70,282.06 L82.20,283.52 L82.70,284.94 L83.20,286.32 L83.70,287.66 L84.20,288.97 L84.70,290.25 L85.20,291.52 L85.70,292.76 L86.20,294.00 L86.70,295.23 L87.20,296.45 L87.70,297.65 L88.20,298.84 L88.70,300.00 L89.20,301.13 L89.70,302.24 L90.20,303.34 L90.70,304.42 L91.20,305.48 L91.70,306.51 L92.20,307.48 L92.70,308.40 L93.20,309.26 L93.70,310.09 L94.20,310.88 L94.70,311.64 L95.20,312.37 L95.70,313.08 L96.20,313.77 L96.70,314.45 L97.20,315.11 L97.70,315.74 L98.20,316.35 L98.70,316.94 L99.20,317.49 L99.70,318.02 L100.20,318.53 L100.70,319.02 L101.20,319.49 L101.70,319.94 L102.20,320.36 L102.70,320.75 L103.20,321.12 L103.70,321.47 L104.20,321.80 L104.70,322.12 L105.20,322.43 L105.70,322.74 L106.20,323.05 L106.70,323.35 L107.20,323.66 L107.70,323.96 L108.20,324.25 L108.70,324.53 L109.20,324.80 L109.70,325.06 L110.20,325.29 L110.70,325.53 L111.20,325.77 L111.70,326.02 L112.20,326.26 L112.70,326.49 L113.20,326.72 L113.70,326.95 L114.20,327.16 L114.70,327.36 L115.20,327.56 L115.70,327.73 L116.20,327.89 L116.70,328.03 L117.20,328.15 L117.70,328.25 L118.20,328.33 L118.70,328.40 L119.20,328.46 L119.70,328.52 L120.20,328.58 L120.70,328.64 L121.20,328.69 L121.70,328.74 L122.20,328.79 L122.70,328.83 L123.20,328.87 L123.70,328.91 L124.20,328.95 L124.70,328.98 L125.20,329.02 L125.70,329.05 L126.20,329.08 L126.70,329.11 L127.20,329.13 L127.70,329.16 L128.20,329.19 L128.70,329.21 L129.20,329.23 L129.70,329.26 L130.20,329.28 L130.70,329.31 L131.20,329.33 L131.70,329.36 L132.20,329.38 L132.70,329.40 L133.20,329.42 L133.70,329.44 L134.20,329.45 L134.70,329.47 L135.20,329.48 L135.70,329.49 L136.20,329.50 L136.70,329.50 L137.20,329.50 L137.70,329.50 L138.20,329.50 L138.70,329.50 L139.20,329.50 L139.70,329.50 L140.20,329.49 L140.70,329.49 L141.20,329.48 L141.70,329.48 L142.20,329.47 L142.70,329.46 L143.20,329.45 L143.70,329.44 L144.20,329.43 L144.70,329.41" fill="none" stroke="#12b97a" stroke-width="1.4" stroke-linejoin="round"/>
<path d="M31.70,302.30 L32.20,301.62 L32.70,300.98 L33.20,300.39 L33.70,299.87 L34.20,299.42 L34.70,299.06 L35.20,298.71 L35.70,298.37 L36.20,298.08 L36.70,297.85 L37.20,297.72 L37.70,297.71 L38.20,297.78 L38.70,297.91 L39.20,298.08 L39.70,298.28 L40.20,298.49 L40.70,298.69 L41.20,298.87 L41.70,299.08 L42.20,299.31 L42.70,299.56 L43.20,299.79 L43.70,300.00 L44.20,300.17 L44.70,300.27 L45.20,300.30 L45.70,300.27 L46.20,300.19 L46.70,300.08 L47.20,299.94 L47.70,299.78 L48.20,299.61 L48.70,299.42 L49.20,299.16 L49.70,298.83 L50.20,298.43 L50.70,297.99 L51.20,297.51 L51.70,297.00 L52.20,296.46 L52.70,295.83 L53.20,295.13 L53.70,294.37 L54.20,293.56 L54.70,292.72 L55.20,291.87 L55.70,291.01 L56.20,290.15 L56.70,289.22 L57.20,288.23 L57.70,287.20 L58.20,286.17 L58.70,285.17 L59.20,284.22 L59.70,283.36 L60.20,282.61 L60.70,281.89 L61.20,281.20 L61.70,280.54 L62.20,279.93 L62.70,279.37 L63.20,278.88 L63.70,278.47 L64.20,278.12 L64.70,277.77 L65.20,277.44 L65.70,277.13 L66.20,276.86 L66.70,276.64 L67.20,276.49 L67.70,276.41 L68.20,276.41 L68.70,276.45 L69.20,276.52 L69.70,276.62 L70.20,276.73 L70.70,276.86 L71.20,277.05 L71.70,277.32 L72.20,277.63 L72.70,277.99 L73.20,278.38 L73.70,278.85 L74.20,279.42 L74.70,280.05 L75.20,280.74 L75.70,281.45 L76.20,282.16 L76.70,282.87 L77.20,283.63 L77.70,284.42 L78.20,285.22 L78.70,286.04 L79.20,286.86 L79.70,287.66 L80.20,288.46 L80.70,289.26 L81.20,290.07 L81.70,290.88 L82.20,291.68 L82.70,292.48 L83.20,293.28 L83.70,294.07 L84.20,294.86 L84.70,295.64 L85.20,296.43 L85.70,297.21 L86.20,298.00 L86.70,298.79 L87.20,299.59 L87.70,300.39 L88.20,301.19 L88.70,301.97 L89.20,302.75 L89.70,303.50 L90.20,304.25 L90.70,304.99 L91.20,305.72 L91.70,306.43 L92.20,307.13 L92.70,307.80 L93.20,308.45 L93.70,309.09 L94.20,309.71 L94.70,310.32 L95.20,310.91 L95.70,311.47 L96.20,312.01 L96.70,312.52 L97.20,313.01 L97.70,313.49 L98.20,313.95 L98.70,314.42 L99.20,314.90 L99.70,315.40 L100.20,315.91 L100.70,316.43 L101.20,316.94 L101.70,317.44 L102.20,317.92 L102.70,318.38 L103.20,318.82 L103.70,319.25 L104.20,319.66 L104.70,320.07 L105.20,320.45 L105.70,320.83 L106.20,321.19 L106.70,321.54 L107.20,321.89 L107.70,322.23 L108.20,322.55 L108.70,322.87 L109.20,323.16 L109.70,323.44 L110.20,323.70 L110.70,323.96 L111.20,324.21 L111.70,324.46 L112.20,324.70 L112.70,324.93 L113.20,325.16 L113.70,325.39 L114.20,325.60 L114.70,325.81 L115.20,326.01 L115.70,326.19 L116.20,326.37 L116.70,326.53 L117.20,326.68 L117.70,326.82 L118.20,326.95 L118.70,327.07 L119.20,327.19 L119.70,327.31 L120.20,327.43 L120.70,327.54 L121.20,327.65 L121.70,327.76 L122.20,327.87 L122.70,327.97 L123.20,328.06 L123.70,328.15 L124.20,328.24 L124.70,328.32 L125.20,328.39 L125.70,328.46 L126.20,328.52 L126.70,328.57 L127.20,328.62 L127.70,328.66 L128.20,328.69 L128.70,328.71 L129.20,328.73 L129.70,328.75 L130.20,328.76 L130.70,328.78 L131.20,328.80 L131.70,328.81 L132.20,328.83 L132.70,328.84 L133.20,328.85 L133.70,328.86 L134.20,328.87 L134.70,328.88 L135.20,328.89 L135.70,328.89 L136.20,328.90 L136.70,328.90 L137.20,328.90 L137.70,328.89 L138.20,328.88 L138.70,328.86 L139.20,328.83 L139.70,328.80 L140.20,328.76 L140.70,328.72 L141.20,328.67 L141.70,328.62 L142.20,328.56 L142.70,328.51 L143.20,328.44 L143.70,328.38 L144.20,328.31 L144.70,328.24" fill="none" stroke="#12e6f0" stroke-width="1.4" stroke-linejoin="round"/>
<path d="M31.70,296.90 L32.20,296.01 L32.70,295.18 L33.20,294.43 L33.70,293.78 L34.20,293.25 L34.70,292.85 L35.20,292.49 L35.70,292.15 L36.20,291.86 L36.70,291.65 L37.20,291.52 L37.70,291.51 L38.20,291.60 L38.70,291.77 L39.20,292.01 L39.70,292.29 L40.20,292.59 L40.70,292.90 L41.20,293.20 L41.70,293.52 L42.20,293.88 L42.70,294.29 L43.20,294.70 L43.70,295.12 L44.20,295.51 L44.70,295.86 L45.20,296.15 L45.70,296.44 L46.20,296.72 L46.70,297.01 L47.20,297.28 L47.70,297.54 L48.20,297.76 L48.70,297.95 L49.20,298.09 L49.70,298.18 L50.20,298.20 L50.70,298.10 L51.20,297.90 L51.70,297.60 L52.20,297.23 L52.70,296.81 L53.20,296.37 L53.70,295.93 L54.20,295.50 L54.70,295.05 L55.20,294.55 L55.70,294.00 L56.20,293.44 L56.70,292.87 L57.20,292.32 L57.70,291.79 L58.20,291.28 L58.70,290.76 L59.20,290.26 L59.70,289.78 L60.20,289.32 L60.70,288.85 L61.20,288.39 L61.70,287.93 L62.20,287.51 L62.70,287.12 L63.20,286.78 L63.70,286.49 L64.20,286.21 L64.70,285.93 L65.20,285.67 L65.70,285.44 L66.20,285.26 L66.70,285.14 L67.20,285.10 L67.70,285.13 L68.20,285.22 L68.70,285.35 L69.20,285.52 L69.70,285.70 L70.20,285.90 L70.70,286.14 L71.20,286.47 L71.70,286.85 L72.20,287.28 L72.70,287.73 L73.20,288.19 L73.70,288.70 L74.20,289.25 L74.70,289.85 L75.20,290.48 L75.70,291.12 L76.20,291.77 L76.70,292.43 L77.20,293.13 L77.70,293.85 L78.20,294.58 L78.70,295.32 L79.20,296.04 L79.70,296.74 L80.20,297.42 L80.70,298.10 L81.20,298.76 L81.70,299.43 L82.20,300.09 L82.70,300.74 L83.20,301.39 L83.70,302.04 L84.20,302.69 L84.70,303.33 L85.20,303.96 L85.70,304.59 L86.20,305.20 L86.70,305.80 L87.20,306.39 L87.70,306.97 L88.20,307.54 L88.70,308.11 L89.20,308.67 L89.70,309.22 L90.20,309.77 L90.70,310.31 L91.20,310.85 L91.70,311.38 L92.20,311.89 L92.70,312.40 L93.20,312.89 L93.70,313.38 L94.20,313.86 L94.70,314.33 L95.20,314.79 L95.70,315.24 L96.20,315.67 L96.70,316.10 L97.20,316.52 L97.70,316.93 L98.20,317.33 L98.70,317.73 L99.20,318.12 L99.70,318.51 L100.20,318.90 L100.70,319.28 L101.20,319.66 L101.70,320.02 L102.20,320.39 L102.70,320.74 L103.20,321.10 L103.70,321.45 L104.20,321.79 L104.70,322.13 L105.20,322.45 L105.70,322.74 L106.20,323.02 L106.70,323.29 L107.20,323.55 L107.70,323.80 L108.20,324.04 L108.70,324.27 L109.20,324.48 L109.70,324.68 L110.20,324.88 L110.70,325.06 L111.20,325.24 L111.70,325.42 L112.20,325.60 L112.70,325.77 L113.20,325.93 L113.70,326.10 L114.20,326.25 L114.70,326.40 L115.20,326.54 L115.70,326.68 L116.20,326.81 L116.70,326.93 L117.20,327.04 L117.70,327.14 L118.20,327.24 L118.70,327.33 L119.20,327.43 L119.70,327.52 L120.20,327.62 L120.70,327.71 L121.20,327.80 L121.70,327.89 L122.20,327.98 L122.70,328.06 L123.20,328.14 L123.70,328.21 L124.20,328.28 L124.70,328.35 L125.20,328.41 L125.70,328.46 L126.20,328.50 L126.70,328.54 L127.20,328.57 L127.70,328.59 L128.20,328.60 L128.70,328.60 L129.20,328.60 L129.70,328.60 L130.20,328.60 L130.70,328.60 L131.20,328.60 L131.70,328.60 L132.20,328.60 L132.70,328.60 L133.20,328.60 L133.70,328.60 L134.20,328.60 L134.70,328.60 L135.20,328.60 L135.70,328.60 L136.20,328.60 L136.70,328.60 L137.20,328.60 L137.70,328.57 L138.20,328.52 L138.70,328.45 L139.20,328.36 L139.70,328.27 L140.20,328.16 L140.70,328.06 L141.20,327.96 L141.70,327.85 L142.20,327.72 L142.70,327.58 L143.20,327.43 L143.70,327.26 L144.20,327.09 L144.70,326.91" fill="none" stroke="#2424f0" stroke-width="1.4" stroke-linejoin="round"/>
<line x1="54.30" y1="219.90" x2="66.70" y2="219.90" stroke="#16bf80" stroke-width="1.7"/>
<line x1="54.30" y1="227.90" x2="66.70" y2="227.90" stroke="#18f0f4" stroke-width="1.7"/>
<line x1="54.30" y1="236.30" x2="66.70" y2="236.30" stroke="#3434f4" stroke-width="1.7"/>
<text x="85.00" y="223.31" font-size="8.4" text-anchor="end" fill="#141414" stroke="#141414">4:1</text>
<text x="85.00" y="231.41" font-size="8.4" text-anchor="end" fill="#141414" stroke="#141414">19:1</text>
<text x="85.00" y="239.61" font-size="8.4" text-anchor="end" fill="#141414" stroke="#141414">49:1</text>
<path d="M86.10,216.80 Q90.00,216.80 90.00,219.60 L90.00,225.90 Q90.00,227.50 91.70,227.50 Q90.00,227.50 90.00,229.10 L90.00,235.40 Q90.00,238.20 86.10,238.20" fill="none" stroke="#5a4e48" stroke-width="0.85"/>
<text x="92.60" y="229.71" font-size="8.4" text-anchor="start" fill="#141414" stroke="#141414">R86SG:NLuc</text>
<text x="99.20" y="264.01" font-size="11.2" text-anchor="start" fill="#111" stroke="#111" font-weight="bold" stroke-width="0.12">C7/S5</text>
<text x="98.70" y="277.55" font-size="10.2" text-anchor="start" fill="#141414" stroke="#141414">mixture</text>
<text transform="translate(68.20,249.34) scale(0.9,1)" x="0" y="0" font-size="9.6" text-anchor="middle" fill="#141414" stroke="#141414">516</text>
<text transform="translate(39.70,289.14) scale(0.9,1)" x="0" y="0" font-size="9.6" text-anchor="middle" fill="#141414" stroke="#141414">423</text>
<line x1="37.90" y1="271.30" x2="66.80" y2="271.30" stroke="#ff2424" stroke-width="1.6"/>
<path d="M43.10,267.90 L38.50,271.30 L43.10,274.70" fill="none" stroke="#ff2424" stroke-width="1.4"/>
<path d="M61.60,267.90 L66.20,271.30 L61.60,274.70" fill="none" stroke="#ff2424" stroke-width="1.4"/>
<line x1="37.90" y1="267.90" x2="37.90" y2="274.70" stroke="#7b3fd0" stroke-width="1.5"/>
<line x1="66.80" y1="267.90" x2="66.80" y2="274.70" stroke="#ff2424" stroke-width="1.5"/>
<text transform="translate(51.80,268.64) scale(0.9,1)" x="0" y="0" font-size="9.6" text-anchor="middle" fill="#ff2424" stroke="#ff2424" stroke-width="0.12">93</text>
<text transform="translate(204.50,230.69) scale(0.93,1)" x="0" y="0" font-size="8.9" text-anchor="end" fill="#141414" stroke="#141414">3</text>
<text transform="translate(204.50,266.99) scale(0.93,1)" x="0" y="0" font-size="8.9" text-anchor="end" fill="#141414" stroke="#141414">2</text>
<text transform="translate(204.50,299.19) scale(0.93,1)" x="0" y="0" font-size="8.9" text-anchor="end" fill="#141414" stroke="#141414">1</text>
<text transform="translate(204.50,333.19) scale(0.93,1)" x="0" y="0" font-size="8.9" text-anchor="end" fill="#141414" stroke="#141414">0</text>
<text transform="translate(208.60,341.19) scale(0.93,1)" x="0" y="0" font-size="8.9" text-anchor="middle" fill="#141414" stroke="#141414">400</text>
<text transform="translate(241.11,341.19) scale(0.93,1)" x="0" y="0" font-size="8.9" text-anchor="middle" fill="#141414" stroke="#141414">500</text>
<text transform="translate(273.63,341.19) scale(0.93,1)" x="0" y="0" font-size="8.9" text-anchor="middle" fill="#141414" stroke="#141414">600</text>
<text transform="translate(306.14,341.19) scale(0.93,1)" x="0" y="0" font-size="8.9" text-anchor="middle" fill="#141414" stroke="#141414">700</text>
<text transform="translate(193.39,270.20) rotate(-90)" x="0" y="0" font-size="9.2" text-anchor="middle" fill="#141414" stroke="#141414" font-weight="bold">RLU/sec (x 100,000)</text>
<text x="230.20" y="351.26" font-size="9.1" text-anchor="start" fill="#141414" stroke="#141414" font-weight="bold">wavelength, nm</text>
<rect x="208.60" y="212.00" width="113.80" height="118.00" fill="none" stroke="#9e9691" stroke-width="1.3"/>
<path d="M208.40,323.50 L208.90,323.42 L209.40,323.34 L209.90,323.25 L210.40,323.15 L210.90,323.04 L211.40,322.94 L211.90,322.82 L212.40,322.71 L212.90,322.59 L213.40,322.47 L213.90,322.33 L214.40,322.19 L214.90,322.02 L215.40,321.84 L215.90,321.62 L216.40,321.36 L216.90,321.06 L217.40,320.72 L217.90,320.35 L218.40,319.97 L218.90,319.58 L219.40,319.18 L219.90,318.76 L220.40,318.32 L220.90,317.85 L221.40,317.34 L221.90,316.78 L222.40,316.16 L222.90,315.47 L223.40,314.63 L223.90,313.68 L224.40,312.63 L224.90,311.52 L225.40,310.36 L225.90,309.20 L226.40,308.04 L226.90,306.84 L227.40,305.61 L227.90,304.33 L228.40,303.00 L228.90,301.62 L229.40,300.19 L229.90,298.69 L230.40,297.10 L230.90,295.43 L231.40,293.68 L231.90,291.90 L232.40,290.09 L232.90,288.27 L233.40,286.38 L233.90,284.44 L234.40,282.48 L234.90,280.53 L235.40,278.64 L235.90,276.81 L236.40,275.00 L236.90,273.21 L237.40,271.46 L237.90,269.76 L238.40,268.13 L238.90,266.57 L239.40,265.02 L239.90,263.52 L240.40,262.07 L240.90,260.72 L241.40,259.46 L241.90,258.32 L242.40,257.19 L242.90,256.11 L243.40,255.12 L243.90,254.27 L244.40,253.61 L244.90,253.09 L245.40,252.59 L245.90,252.15 L246.40,251.78 L246.90,251.52 L247.40,251.40 L247.90,251.44 L248.40,251.57 L248.90,251.79 L249.40,252.07 L249.90,252.39 L250.40,252.73 L250.90,253.12 L251.40,253.64 L251.90,254.26 L252.40,254.98 L252.90,255.76 L253.40,256.60 L253.90,257.55 L254.40,258.67 L254.90,259.92 L255.40,261.25 L255.90,262.62 L256.40,264.00 L256.90,265.43 L257.40,266.94 L257.90,268.52 L258.40,270.11 L258.90,271.68 L259.40,273.20 L259.90,274.67 L260.40,276.12 L260.90,277.55 L261.40,278.96 L261.90,280.37 L262.40,281.78 L262.90,283.19 L263.40,284.60 L263.90,286.00 L264.40,287.38 L264.90,288.74 L265.40,290.06 L265.90,291.36 L266.40,292.64 L266.90,293.90 L267.40,295.14 L267.90,296.36 L268.40,297.56 L268.90,298.73 L269.40,299.91 L269.90,301.08 L270.40,302.23 L270.90,303.35 L271.40,304.43 L271.90,305.45 L272.40,306.40 L272.90,307.28 L273.40,308.13 L273.90,308.93 L274.40,309.70 L274.90,310.43 L275.40,311.13 L275.90,311.80 L276.40,312.44 L276.90,313.05 L277.40,313.63 L277.90,314.19 L278.40,314.74 L278.90,315.27 L279.40,315.80 L279.90,316.32 L280.40,316.83 L280.90,317.35 L281.40,317.85 L281.90,318.34 L282.40,318.82 L282.90,319.27 L283.40,319.71 L283.90,320.12 L284.40,320.51 L284.90,320.88 L285.40,321.24 L285.90,321.59 L286.40,321.93 L286.90,322.26 L287.40,322.57 L287.90,322.87 L288.40,323.16 L288.90,323.44 L289.40,323.72 L289.90,323.98 L290.40,324.24 L290.90,324.50 L291.40,324.74 L291.90,324.98 L292.40,325.21 L292.90,325.44 L293.40,325.65 L293.90,325.86 L294.40,326.07 L294.90,326.26 L295.40,326.45 L295.90,326.64 L296.40,326.82 L296.90,327.00 L297.40,327.18 L297.90,327.35 L298.40,327.51 L298.90,327.67 L299.40,327.82 L299.90,327.96 L300.40,328.08 L300.90,328.20 L301.40,328.31 L301.90,328.42 L302.40,328.52 L302.90,328.62 L303.40,328.71 L303.90,328.80 L304.40,328.89 L304.90,328.96 L305.40,329.04 L305.90,329.10 L306.40,329.16 L306.90,329.21 L307.40,329.26 L307.90,329.31 L308.40,329.35 L308.90,329.40 L309.40,329.44 L309.90,329.48 L310.40,329.52 L310.90,329.55 L311.40,329.57 L311.90,329.59 L312.40,329.60 L312.90,329.60 L313.40,329.60 L313.90,329.60 L314.40,329.60 L314.90,329.60 L315.40,329.60 L315.90,329.60 L316.40,329.60 L316.90,329.60 L317.40,329.60 L317.90,329.60 L318.40,329.60 L318.90,329.60 L319.40,329.60 L319.90,329.60 L320.40,329.60 L320.90,329.60 L321.40,329.60 L321.90,329.60" fill="none" stroke="#12b97a" stroke-width="1.4" stroke-linejoin="round"/>
<path d="M208.40,302.10 L208.90,301.37 L209.40,300.68 L209.90,300.04 L210.40,299.47 L210.90,298.97 L211.40,298.57 L211.90,298.23 L212.40,297.91 L212.90,297.60 L213.40,297.33 L213.90,297.12 L214.40,296.97 L214.90,296.90 L215.40,296.93 L215.90,297.04 L216.40,297.22 L216.90,297.45 L217.40,297.70 L217.90,297.99 L218.40,298.41 L218.90,298.94 L219.40,299.53 L219.90,300.14 L220.40,300.74 L220.90,301.37 L221.40,302.03 L221.90,302.72 L222.40,303.43 L222.90,304.16 L223.40,304.91 L223.90,305.65 L224.40,306.44 L224.90,307.29 L225.40,308.15 L225.90,309.00 L226.40,309.82 L226.90,310.57 L227.40,311.22 L227.90,311.83 L228.40,312.40 L228.90,312.95 L229.40,313.47 L229.90,313.96 L230.40,314.41 L230.90,314.84 L231.40,315.23 L231.90,315.59 L232.40,315.93 L232.90,316.26 L233.40,316.58 L233.90,316.88 L234.40,317.16 L234.90,317.43 L235.40,317.68 L235.90,317.92 L236.40,318.14 L236.90,318.34 L237.40,318.53 L237.90,318.71 L238.40,318.88 L238.90,319.04 L239.40,319.20 L239.90,319.34 L240.40,319.48 L240.90,319.62 L241.40,319.74 L241.90,319.86 L242.40,319.98 L242.90,320.09 L243.40,320.19 L243.90,320.30 L244.40,320.39 L244.90,320.49 L245.40,320.58 L245.90,320.67 L246.40,320.75 L246.90,320.83 L247.40,320.91 L247.90,320.99 L248.40,321.06 L248.90,321.13 L249.40,321.19 L249.90,321.26 L250.40,321.32 L250.90,321.38 L251.40,321.44 L251.90,321.50 L252.40,321.55 L252.90,321.61 L253.40,321.66 L253.90,321.71 L254.40,321.76 L254.90,321.81 L255.40,321.86 L255.90,321.91 L256.40,321.96 L256.90,322.00 L257.40,322.04 L257.90,322.08 L258.40,322.11 L258.90,322.15 L259.40,322.19 L259.90,322.23 L260.40,322.26 L260.90,322.31 L261.40,322.35 L261.90,322.40 L262.40,322.45 L262.90,322.50 L263.40,322.56 L263.90,322.63 L264.40,322.70 L264.90,322.78 L265.40,322.86 L265.90,322.95 L266.40,323.04 L266.90,323.13 L267.40,323.23 L267.90,323.32 L268.40,323.42 L268.90,323.52 L269.40,323.62 L269.90,323.73 L270.40,323.84 L270.90,323.95 L271.40,324.07 L271.90,324.19 L272.40,324.31 L272.90,324.43 L273.40,324.55 L273.90,324.68 L274.40,324.80 L274.90,324.92 L275.40,325.05 L275.90,325.18 L276.40,325.32 L276.90,325.45 L277.40,325.59 L277.90,325.73 L278.40,325.87 L278.90,326.01 L279.40,326.14 L279.90,326.28 L280.40,326.41 L280.90,326.54 L281.40,326.66 L281.90,326.78 L282.40,326.89 L282.90,327.00 L283.40,327.12 L283.90,327.23 L284.40,327.34 L284.90,327.45 L285.40,327.55 L285.90,327.65 L286.40,327.75 L286.90,327.85 L287.40,327.94 L287.90,328.03 L288.40,328.11 L288.90,328.19 L289.40,328.26 L289.90,328.33 L290.40,328.40 L290.90,328.46 L291.40,328.53 L291.90,328.59 L292.40,328.65 L292.90,328.71 L293.40,328.76 L293.90,328.82 L294.40,328.87 L294.90,328.92 L295.40,328.96 L295.90,329.01 L296.40,329.05 L296.90,329.09 L297.40,329.13 L297.90,329.17 L298.40,329.21 L298.90,329.24 L299.40,329.28 L299.90,329.31 L300.40,329.35 L300.90,329.38 L301.40,329.41 L301.90,329.44 L302.40,329.47 L302.90,329.50 L303.40,329.52 L303.90,329.54 L304.40,329.56 L304.90,329.58 L305.40,329.59 L305.90,329.61 L306.40,329.62 L306.90,329.63 L307.40,329.64 L307.90,329.65 L308.40,329.66 L308.90,329.67 L309.40,329.68 L309.90,329.69 L310.40,329.69 L310.90,329.70 L311.40,329.70 L311.90,329.70 L312.40,329.70 L312.90,329.69 L313.40,329.69 L313.90,329.68 L314.40,329.66 L314.90,329.64 L315.40,329.62 L315.90,329.60 L316.40,329.57 L316.90,329.54 L317.40,329.51 L317.90,329.45 L318.40,329.34 L318.90,329.19 L319.40,329.02 L319.90,328.84 L320.40,328.64 L320.90,328.42 L321.40,328.16 L321.90,327.88" fill="none" stroke="#2424f0" stroke-width="1.4" stroke-linejoin="round"/>
<line x1="220.10" y1="220.00" x2="233.10" y2="220.00" stroke="#16bf80" stroke-width="1.7"/>
<line x1="220.10" y1="228.10" x2="233.10" y2="228.10" stroke="#3434f4" stroke-width="1.7"/>
<text x="250.00" y="223.41" font-size="8.4" text-anchor="end" fill="#141414" stroke="#141414">1:1</text>
<text x="250.00" y="231.51" font-size="8.4" text-anchor="end" fill="#141414" stroke="#141414">49:1</text>
<path d="M251.00,216.80 Q254.00,216.80 254.00,219.60 L254.00,221.60 Q254.00,223.20 255.60,223.20 Q254.00,223.20 254.00,224.80 L254.00,226.80 Q254.00,229.60 251.00,229.60" fill="none" stroke="#5a4e48" stroke-width="0.85"/>
<text x="258.90" y="226.11" font-size="8.4" text-anchor="start" fill="#141414" stroke="#141414">R86SG:ALuc16</text>
<text x="277.50" y="264.11" font-size="11.2" text-anchor="start" fill="#111" stroke="#111" font-weight="bold" stroke-width="0.12">C7/S5</text>
<text x="277.50" y="277.75" font-size="10.2" text-anchor="start" fill="#141414" stroke="#141414">mixture</text>
<text transform="translate(247.20,247.84) scale(0.9,1)" x="0" y="0" font-size="9.6" text-anchor="middle" fill="#141414" stroke="#141414">525</text>
<text transform="translate(219.30,294.74) scale(0.9,1)" x="0" y="0" font-size="9.6" text-anchor="middle" fill="#141414" stroke="#141414">423</text>
<line x1="216.60" y1="273.30" x2="247.40" y2="273.30" stroke="#ff2424" stroke-width="1.6"/>
<path d="M221.80,269.90 L217.20,273.30 L221.80,276.70" fill="none" stroke="#ff2424" stroke-width="1.4"/>
<path d="M242.20,269.90 L246.80,273.30 L242.20,276.70" fill="none" stroke="#ff2424" stroke-width="1.4"/>
<line x1="216.60" y1="269.90" x2="216.60" y2="276.70" stroke="#7b3fd0" stroke-width="1.5"/>
<line x1="247.40" y1="269.90" x2="247.40" y2="276.70" stroke="#ff2424" stroke-width="1.5"/>
<text transform="translate(229.40,271.14) scale(0.9,1)" x="0" y="0" font-size="9.6" text-anchor="middle" fill="#ff2424" stroke="#ff2424" stroke-width="0.12">102</text>
<text transform="translate(380.00,213.69) scale(0.93,1)" x="0" y="0" font-size="8.9" text-anchor="end" fill="#141414" stroke="#141414">8</text>
<text transform="translate(380.00,273.99) scale(0.93,1)" x="0" y="0" font-size="8.9" text-anchor="end" fill="#141414" stroke="#141414">4</text>
<text transform="translate(380.00,302.59) scale(0.93,1)" x="0" y="0" font-size="8.9" text-anchor="end" fill="#141414" stroke="#141414">2</text>
<text transform="translate(380.00,333.09) scale(0.93,1)" x="0" y="0" font-size="8.9" text-anchor="end" fill="#141414" stroke="#141414">0</text>
<text transform="translate(385.10,341.19) scale(0.93,1)" x="0" y="0" font-size="8.9" text-anchor="middle" fill="#141414" stroke="#141414">400</text>
<text transform="translate(417.53,341.19) scale(0.93,1)" x="0" y="0" font-size="8.9" text-anchor="middle" fill="#141414" stroke="#141414">500</text>
<text transform="translate(449.96,341.19) scale(0.93,1)" x="0" y="0" font-size="8.9" text-anchor="middle" fill="#141414" stroke="#141414">600</text>
<text transform="translate(482.39,341.19) scale(0.93,1)" x="0" y="0" font-size="8.9" text-anchor="middle" fill="#141414" stroke="#141414">700</text>
<text transform="translate(372.49,264.10) rotate(-90)" x="0" y="0" font-size="9.2" text-anchor="middle" fill="#141414" stroke="#141414" font-weight="bold">RLU/sec (x 1,000)</text>
<text x="407.30" y="351.06" font-size="9.1" text-anchor="start" fill="#141414" stroke="#141414" font-weight="bold">wavelength, nm</text>
<rect x="385.10" y="211.50" width="113.50" height="118.80" fill="none" stroke="#9e9691" stroke-width="1.3"/>
<path d="M385.40,297.82 L386.00,295.21 L386.60,296.04 L387.20,295.17 L387.80,294.88 L388.40,294.74 L389.00,293.70 L389.60,294.29 L390.20,293.85 L390.80,295.63 L391.40,294.20 L392.00,294.06 L392.60,294.31 L393.20,294.40 L393.80,294.47 L394.40,294.92 L395.00,295.45 L395.60,295.25 L396.20,295.91 L396.80,295.52 L397.40,295.76 L398.00,296.64 L398.60,296.40 L399.20,296.15 L399.80,296.49 L400.40,296.97 L401.00,297.67 L401.60,296.71 L402.20,296.75 L402.80,297.33 L403.40,296.49 L404.00,296.77 L404.60,297.28 L405.20,297.04 L405.80,296.64 L406.40,296.65 L407.00,294.80 L407.60,296.25 L408.20,295.08 L408.80,294.46 L409.40,294.99 L410.00,294.81 L410.60,293.88 L411.20,293.15 L411.80,293.16 L412.40,292.56 L413.00,292.58 L413.60,291.59 L414.20,290.61 L414.80,290.26 L415.40,288.87 L416.00,287.66 L416.60,287.40 L417.20,286.43 L417.80,285.08 L418.40,283.86 L419.00,283.38 L419.60,281.21 L420.20,281.70 L420.80,280.67 L421.40,278.78 L422.00,278.63 L422.60,277.29 L423.20,277.21 L423.80,275.12 L424.40,274.77 L425.00,274.62 L425.60,273.88 L426.20,271.36 L426.80,270.97 L427.40,270.16 L428.00,268.55 L428.60,268.41 L429.20,266.13 L429.80,265.86 L430.40,264.29 L431.00,264.49 L431.60,262.97 L432.20,261.96 L432.80,260.53 L433.40,261.21 L434.00,259.93 L434.60,259.08 L435.20,258.43 L435.80,257.33 L436.40,256.24 L437.00,255.64 L437.60,255.18 L438.20,255.71 L438.80,254.02 L439.40,254.04 L440.00,253.88 L440.60,253.95 L441.20,254.06 L441.80,253.32 L442.40,253.28 L443.00,254.30 L443.60,255.14 L444.20,255.25 L444.80,255.45 L445.40,255.78 L446.00,256.72 L446.60,257.20 L447.20,258.42 L447.80,258.53 L448.40,259.88 L449.00,260.77 L449.60,262.12 L450.20,263.06 L450.80,265.20 L451.40,265.87 L452.00,267.06 L452.60,266.70 L453.20,268.72 L453.80,269.88 L454.40,271.69 L455.00,271.75 L455.60,274.67 L456.20,276.00 L456.80,276.33 L457.40,277.87 L458.00,279.34 L458.60,281.12 L459.20,282.82 L459.80,284.87 L460.40,285.27 L461.00,287.07 L461.60,288.13 L462.20,290.16 L462.80,290.99 L463.40,292.54 L464.00,292.69 L464.60,294.31 L465.20,295.23 L465.80,297.47 L466.40,298.25 L467.00,298.97 L467.60,300.03 L468.20,301.56 L468.80,302.11 L469.40,303.08 L470.00,304.78 L470.60,306.72 L471.20,306.53 L471.80,307.38 L472.40,308.06 L473.00,308.90 L473.60,310.62 L474.20,311.63 L474.80,312.09 L475.40,313.05 L476.00,313.73 L476.60,314.49 L477.20,314.45 L477.80,315.59 L478.40,316.46 L479.00,316.64 L479.60,317.34 L480.20,317.72 L480.80,318.45 L481.40,319.47 L482.00,319.37 L482.60,319.93 L483.20,320.81 L483.80,321.18 L484.40,322.09 L485.00,320.81 L485.60,322.52 L486.20,322.27 L486.80,322.85 L487.40,323.41 L488.00,323.74 L488.60,323.93 L489.20,323.71 L489.80,324.52 L490.40,323.79 L491.00,323.94 L491.60,324.41 L492.20,323.85 L492.80,325.12 L493.40,324.63 L494.00,325.17 L494.60,324.19 L495.20,323.94 L495.80,323.98 L496.40,323.93 L497.00,322.95 L497.60,322.93 L498.20,322.24" fill="none" stroke="#ff8a30" stroke-width="1.3" stroke-linejoin="round"/>
<path d="M385.40,269.60 L386.00,268.52 L386.60,267.14 L387.20,265.93 L387.80,265.42 L388.40,264.46 L389.00,264.45 L389.60,264.87 L390.20,264.09 L390.80,264.40 L391.40,265.46 L392.00,265.98 L392.60,266.62 L393.20,267.16 L393.80,268.88 L394.40,270.64 L395.00,271.07 L395.60,273.16 L396.20,274.30 L396.80,276.58 L397.40,278.30 L398.00,281.02 L398.60,282.49 L399.20,285.29 L399.80,287.20 L400.40,288.84 L401.00,289.23 L401.60,291.61 L402.20,293.13 L402.80,294.39 L403.40,294.69 L404.00,296.29 L404.60,297.06 L405.20,298.10 L405.80,299.96 L406.40,299.94 L407.00,301.24 L407.60,302.61 L408.20,302.78 L408.80,303.88 L409.40,304.80 L410.00,305.54 L410.60,305.67 L411.20,307.06 L411.80,308.34 L412.40,307.40 L413.00,308.95 L413.60,308.88 L414.20,308.75 L414.80,310.28 L415.40,309.83 L416.00,309.00 L416.60,309.77 L417.20,310.15 L417.80,309.85 L418.40,310.34 L419.00,309.96 L419.60,310.30 L420.20,310.64 L420.80,309.53 L421.40,309.90 L422.00,309.49 L422.60,309.71 L423.20,308.98 L423.80,309.21 L424.40,309.33 L425.00,309.79 L425.60,309.82 L426.20,308.49 L426.80,308.65 L427.40,309.26 L428.00,307.82 L428.60,308.46 L429.20,308.49 L429.80,309.00 L430.40,308.53 L431.00,307.83 L431.60,307.61 L432.20,307.46 L432.80,308.15 L433.40,306.97 L434.00,306.85 L434.60,306.98 L435.20,306.51 L435.80,306.24 L436.40,305.53 L437.00,305.85 L437.60,305.42 L438.20,306.04 L438.80,305.64 L439.40,305.21 L440.00,305.53 L440.60,305.04 L441.20,305.77 L441.80,305.29 L442.40,305.65 L443.00,304.79 L443.60,305.69 L444.20,304.81 L444.80,304.85 L445.40,305.98 L446.00,305.97 L446.60,306.79 L447.20,308.12 L447.80,306.86 L448.40,307.27 L449.00,307.99 L449.60,308.47 L450.20,308.47 L450.80,308.82 L451.40,309.65 L452.00,309.97 L452.60,309.65 L453.20,310.62 L453.80,311.21 L454.40,311.20 L455.00,312.40 L455.60,312.36 L456.20,313.76 L456.80,313.81 L457.40,314.19 L458.00,314.26 L458.60,314.89 L459.20,314.34 L459.80,315.16 L460.40,316.28 L461.00,315.40 L461.60,317.25 L462.20,316.31 L462.80,317.91 L463.40,317.46 L464.00,318.62 L464.60,318.64 L465.20,318.14 L465.80,319.86 L466.40,320.29 L467.00,319.85 L467.60,320.06 L468.20,320.42 L468.80,320.31 L469.40,321.64 L470.00,321.11 L470.60,321.65 L471.20,321.56 L471.80,321.92 L472.40,321.86 L473.00,323.39 L473.60,322.94 L474.20,323.74 L474.80,323.50 L475.40,323.38 L476.00,323.78 L476.60,323.88 L477.20,324.38 L477.80,324.39 L478.40,324.63 L479.00,324.30 L479.60,324.79 L480.20,326.23 L480.80,325.28 L481.40,325.31 L482.00,326.24 L482.60,326.99 L483.20,325.75 L483.80,326.55 L484.40,326.48 L485.00,326.07 L485.60,327.45 L486.20,327.19 L486.80,327.31 L487.40,326.92 L488.00,327.49 L488.60,326.90 L489.20,326.97 L489.80,326.32 L490.40,326.09 L491.00,327.17 L491.60,325.98 L492.20,326.02 L492.80,325.42 L493.40,324.76 L494.00,324.28 L494.60,324.45 L495.20,323.62 L495.80,323.34 L496.40,323.08 L497.00,323.31 L497.60,322.73 L498.20,322.26" fill="none" stroke="#1c1cf0" stroke-width="1.3" stroke-linejoin="round"/>
<text x="441.80" y="221.11" font-size="8.4" text-anchor="start" fill="#141414" stroke="#141414">R86SG</text>
<line x1="441.40" y1="227.40" x2="453.40" y2="227.40" stroke="#ff9040" stroke-width="1.7"/>
<line x1="441.40" y1="236.30" x2="453.40" y2="236.30" stroke="#3434f4" stroke-width="1.7"/>
<text x="466.70" y="230.01" font-size="8.4" text-anchor="end" fill="#141414" stroke="#141414">1:3</text>
<text x="466.70" y="239.11" font-size="8.4" text-anchor="end" fill="#141414" stroke="#141414">3:1</text>
<path d="M467.00,226.80 Q469.40,226.80 469.40,229.60 L469.40,231.20 Q469.40,232.80 470.80,232.80 Q469.40,232.80 469.40,234.40 L469.40,236.00 Q469.40,238.80 467.00,238.80" fill="none" stroke="#5a4e48" stroke-width="0.85"/>
<text x="471.70" y="235.37" font-size="8.3" text-anchor="start" fill="#141414" stroke="#141414" font-weight="bold">C6:S5</text>
<text x="461.30" y="264.21" font-size="11.2" text-anchor="start" fill="#111" stroke="#111" font-weight="bold" stroke-width="0.12">C6/S5</text>
<text x="461.30" y="277.95" font-size="10.2" text-anchor="start" fill="#141414" stroke="#141414">mixture</text>
<text transform="translate(439.90,251.74) scale(0.9,1)" x="0" y="0" font-size="9.6" text-anchor="middle" fill="#141414" stroke="#141414">585</text>
<text transform="translate(393.70,261.24) scale(0.9,1)" x="0" y="0" font-size="9.6" text-anchor="middle" fill="#141414" stroke="#141414">418</text>
<line x1="388.90" y1="282.70" x2="439.90" y2="282.70" stroke="#ff2424" stroke-width="1.6"/>
<path d="M394.10,279.30 L389.50,282.70 L394.10,286.10" fill="none" stroke="#ff2424" stroke-width="1.4"/>
<path d="M434.70,279.30 L439.30,282.70 L434.70,286.10" fill="none" stroke="#ff2424" stroke-width="1.4"/>
<line x1="388.90" y1="279.30" x2="388.90" y2="286.10" stroke="#7b3fd0" stroke-width="1.5"/>
<line x1="439.90" y1="279.30" x2="439.90" y2="286.10" stroke="#ff2424" stroke-width="1.5"/>
<text transform="translate(407.40,280.34) scale(0.9,1)" x="0" y="0" font-size="9.6" text-anchor="middle" fill="#ff2424" stroke="#ff2424" stroke-width="0.12">167</text>
<text x="2.70" y="385.83" font-size="13.2" text-anchor="start" fill="#141414" stroke="#141414">(D)</text>
<text transform="translate(27.30,404.69) scale(0.93,1)" x="0" y="0" font-size="8.9" text-anchor="end" fill="#141414" stroke="#141414">15</text>
<text transform="translate(27.30,444.69) scale(0.93,1)" x="0" y="0" font-size="8.9" text-anchor="end" fill="#141414" stroke="#141414">10</text>
<text transform="translate(27.30,485.19) scale(0.93,1)" x="0" y="0" font-size="8.9" text-anchor="end" fill="#141414" stroke="#141414">5</text>
<text transform="translate(27.30,524.79) scale(0.93,1)" x="0" y="0" font-size="8.9" text-anchor="end" fill="#141414" stroke="#141414">0</text>
<text transform="translate(31.00,533.19) scale(0.93,1)" x="0" y="0" font-size="8.9" text-anchor="middle" fill="#141414" stroke="#141414">400</text>
<text transform="translate(63.83,533.19) scale(0.93,1)" x="0" y="0" font-size="8.9" text-anchor="middle" fill="#141414" stroke="#141414">500</text>
<text transform="translate(96.66,533.19) scale(0.93,1)" x="0" y="0" font-size="8.9" text-anchor="middle" fill="#141414" stroke="#141414">600</text>
<text transform="translate(129.49,533.19) scale(0.93,1)" x="0" y="0" font-size="8.9" text-anchor="middle" fill="#141414" stroke="#141414">700</text>
<text transform="translate(13.89,461.20) rotate(-90)" x="0" y="0" font-size="9.2" text-anchor="middle" fill="#141414" stroke="#141414" font-weight="bold">RLU/sec (x 100,000)</text>
<text x="48.00" y="545.66" font-size="9.1" text-anchor="start" fill="#141414" stroke="#141414" font-weight="bold">Wavelength, nm</text>
<text x="71.00" y="399.84" font-size="8.2" text-anchor="start" fill="#141414" stroke="#141414">Spectrophotometer</text>
<rect x="31.00" y="403.00" width="114.90" height="119.50" fill="none" stroke="#9e9691" stroke-width="1.3"/>
<path d="M31.40,522.50 L31.90,522.49 L32.40,522.47 L32.90,522.44 L33.40,522.40 L33.90,522.35 L34.40,522.28 L34.90,522.21 L35.40,522.13 L35.90,522.04 L36.40,521.92 L36.90,521.72 L37.40,521.43 L37.90,521.09 L38.40,520.70 L38.90,520.28 L39.40,519.84 L39.90,519.31 L40.40,518.70 L40.90,518.01 L41.40,517.24 L41.90,516.38 L42.40,515.39 L42.90,514.16 L43.40,512.75 L43.90,511.20 L44.40,509.55 L44.90,507.84 L45.40,506.06 L45.90,504.11 L46.40,502.02 L46.90,499.83 L47.40,497.60 L47.90,495.35 L48.40,493.10 L48.90,490.79 L49.40,488.42 L49.90,485.99 L50.40,483.50 L50.90,480.94 L51.40,478.30 L51.90,475.58 L52.40,472.80 L52.90,469.94 L53.40,466.95 L53.90,463.86 L54.40,460.75 L54.90,457.69 L55.40,454.71 L55.90,451.71 L56.40,448.74 L56.90,445.88 L57.40,443.21 L57.90,440.71 L58.40,438.28 L58.90,436.00 L59.40,433.94 L59.90,432.17 L60.40,430.57 L60.90,429.09 L61.40,427.77 L61.90,426.66 L62.40,425.76 L62.90,424.97 L63.40,424.31 L63.90,423.86 L64.40,423.60 L64.90,423.38 L65.40,423.24 L65.90,423.20 L66.40,423.35 L66.90,423.64 L67.40,424.02 L67.90,424.42 L68.40,424.83 L68.90,425.30 L69.40,425.85 L69.90,426.47 L70.40,427.15 L70.90,427.95 L71.40,428.91 L71.90,430.01 L72.40,431.20 L72.90,432.46 L73.40,433.74 L73.90,435.06 L74.40,436.49 L74.90,437.99 L75.40,439.55 L75.90,441.13 L76.40,442.70 L76.90,444.29 L77.40,445.93 L77.90,447.59 L78.40,449.25 L78.90,450.89 L79.40,452.50 L79.90,454.06 L80.40,455.58 L80.90,457.08 L81.40,458.59 L81.90,460.12 L82.40,461.70 L82.90,463.35 L83.40,465.05 L83.90,466.78 L84.40,468.50 L84.90,470.19 L85.40,471.82 L85.90,473.41 L86.40,474.98 L86.90,476.51 L87.40,478.02 L87.90,479.47 L88.40,480.88 L88.90,482.24 L89.40,483.57 L89.90,484.86 L90.40,486.13 L90.90,487.36 L91.40,488.56 L91.90,489.73 L92.40,490.88 L92.90,492.01 L93.40,493.11 L93.90,494.18 L94.40,495.22 L94.90,496.23 L95.40,497.20 L95.90,498.14 L96.40,499.06 L96.90,499.95 L97.40,500.82 L97.90,501.67 L98.40,502.50 L98.90,503.31 L99.40,504.09 L99.90,504.85 L100.40,505.60 L100.90,506.34 L101.40,507.07 L101.90,507.79 L102.40,508.49 L102.90,509.17 L103.40,509.81 L103.90,510.42 L104.40,510.98 L104.90,511.50 L105.40,511.98 L105.90,512.44 L106.40,512.88 L106.90,513.30 L107.40,513.70 L107.90,514.09 L108.40,514.45 L108.90,514.80 L109.40,515.13 L109.90,515.45 L110.40,515.74 L110.90,516.02 L111.40,516.30 L111.90,516.56 L112.40,516.81 L112.90,517.05 L113.40,517.28 L113.90,517.50 L114.40,517.72 L114.90,517.92 L115.40,518.12 L115.90,518.31 L116.40,518.49 L116.90,518.67 L117.40,518.84 L117.90,519.01 L118.40,519.18 L118.90,519.34 L119.40,519.50 L119.90,519.65 L120.40,519.80 L120.90,519.93 L121.40,520.06 L121.90,520.18 L122.40,520.29 L122.90,520.38 L123.40,520.47 L123.90,520.55 L124.40,520.63 L124.90,520.71 L125.40,520.78 L125.90,520.85 L126.40,520.91 L126.90,520.98 L127.40,521.04 L127.90,521.09 L128.40,521.15 L128.90,521.20 L129.40,521.25 L129.90,521.30 L130.40,521.35 L130.90,521.39 L131.40,521.43 L131.90,521.48 L132.40,521.52 L132.90,521.56 L133.40,521.60 L133.90,521.64 L134.40,521.67 L134.90,521.71 L135.40,521.74 L135.90,521.78 L136.40,521.81 L136.90,521.84 L137.40,521.87 L137.90,521.90 L138.40,521.92 L138.90,521.95 L139.40,521.97 L139.90,522.00 L140.40,522.02 L140.90,522.04 L141.40,522.06 L141.90,522.08 L142.40,522.10 L142.90,522.12 L143.40,522.13 L143.90,522.15 L144.40,522.16 L144.90,522.18 L145.40,522.19 L145.90,522.20" fill="none" stroke="#2a2aff" stroke-width="1.5" stroke-linejoin="round"/>
<path d="M31.40,522.50 L31.90,522.50 L32.40,522.48 L32.90,522.46 L33.40,522.44 L33.90,522.41 L34.40,522.37 L34.90,522.32 L35.40,522.28 L35.90,522.22 L36.40,522.17 L36.90,522.11 L37.40,522.04 L37.90,521.95 L38.40,521.84 L38.90,521.71 L39.40,521.55 L39.90,521.37 L40.40,521.18 L40.90,520.97 L41.40,520.74 L41.90,520.50 L42.40,520.24 L42.90,519.97 L43.40,519.68 L43.90,519.30 L44.40,518.84 L44.90,518.31 L45.40,517.73 L45.90,517.11 L46.40,516.47 L46.90,515.83 L47.40,515.21 L47.90,514.61 L48.40,514.05 L48.90,513.47 L49.40,512.90 L49.90,512.32 L50.40,511.74 L50.90,511.16 L51.40,510.58 L51.90,510.00 L52.40,509.44 L52.90,508.87 L53.40,508.29 L53.90,507.69 L54.40,507.10 L54.90,506.54 L55.40,506.03 L55.90,505.58 L56.40,505.19 L56.90,504.83 L57.40,504.49 L57.90,504.17 L58.40,503.88 L58.90,503.61 L59.40,503.37 L59.90,503.16 L60.40,502.95 L60.90,502.76 L61.40,502.58 L61.90,502.42 L62.40,502.29 L62.90,502.21 L63.40,502.16 L63.90,502.12 L64.40,502.08 L64.90,502.05 L65.40,502.02 L65.90,502.01 L66.40,502.00 L66.90,502.01 L67.40,502.07 L67.90,502.16 L68.40,502.27 L68.90,502.40 L69.40,502.54 L69.90,502.67 L70.40,502.81 L70.90,502.97 L71.40,503.14 L71.90,503.32 L72.40,503.52 L72.90,503.74 L73.40,503.96 L73.90,504.20 L74.40,504.45 L74.90,504.73 L75.40,505.04 L75.90,505.36 L76.40,505.71 L76.90,506.07 L77.40,506.44 L77.90,506.82 L78.40,507.20 L78.90,507.58 L79.40,507.97 L79.90,508.39 L80.40,508.83 L80.90,509.28 L81.40,509.73 L81.90,510.17 L82.40,510.61 L82.90,511.03 L83.40,511.42 L83.90,511.80 L84.40,512.16 L84.90,512.52 L85.40,512.87 L85.90,513.22 L86.40,513.56 L86.90,513.89 L87.40,514.21 L87.90,514.53 L88.40,514.84 L88.90,515.14 L89.40,515.44 L89.90,515.74 L90.40,516.03 L90.90,516.33 L91.40,516.62 L91.90,516.91 L92.40,517.19 L92.90,517.46 L93.40,517.72 L93.90,517.97 L94.40,518.20 L94.90,518.41 L95.40,518.60 L95.90,518.78 L96.40,518.95 L96.90,519.11 L97.40,519.27 L97.90,519.42 L98.40,519.57 L98.90,519.70 L99.40,519.84 L99.90,519.96 L100.40,520.08 L100.90,520.19 L101.40,520.29 L101.90,520.38 L102.40,520.47 L102.90,520.56 L103.40,520.64 L103.90,520.72 L104.40,520.80 L104.90,520.88 L105.40,520.95 L105.90,521.02 L106.40,521.09 L106.90,521.15 L107.40,521.21 L107.90,521.26 L108.40,521.31 L108.90,521.35 L109.40,521.39 L109.90,521.42 L110.40,521.45 L110.90,521.48 L111.40,521.51 L111.90,521.54 L112.40,521.57 L112.90,521.59 L113.40,521.62 L113.90,521.64 L114.40,521.67 L114.90,521.69 L115.40,521.71 L115.90,521.74 L116.40,521.76 L116.90,521.78 L117.40,521.80 L117.90,521.82 L118.40,521.83 L118.90,521.85 L119.40,521.87 L119.90,521.88 L120.40,521.90 L120.90,521.91 L121.40,521.92 L121.90,521.94 L122.40,521.95 L122.90,521.96 L123.40,521.97 L123.90,521.98 L124.40,521.99 L124.90,522.00 L125.40,522.01 L125.90,522.01 L126.40,522.02 L126.90,522.03 L127.40,522.04 L127.90,522.04 L128.40,522.05 L128.90,522.06 L129.40,522.07 L129.90,522.07 L130.40,522.08 L130.90,522.09 L131.40,522.09 L131.90,522.10 L132.40,522.11 L132.90,522.11 L133.40,522.12 L133.90,522.12 L134.40,522.13 L134.90,522.14 L135.40,522.14 L135.90,522.15 L136.40,522.15 L136.90,522.16 L137.40,522.16 L137.90,522.16 L138.40,522.17 L138.90,522.17 L139.40,522.18 L139.90,522.18 L140.40,522.18 L140.90,522.19 L141.40,522.19 L141.90,522.19 L142.40,522.19 L142.90,522.19 L143.40,522.20 L143.90,522.20 L144.40,522.20 L144.90,522.20 L145.40,522.20 L145.90,522.20" fill="none" stroke="#ff2a2a" stroke-width="1.25" stroke-linejoin="round"/>
<line x1="77.20" y1="410.30" x2="91.70" y2="410.30" stroke="#2a2aff" stroke-width="2.1"/>
<line x1="77.20" y1="419.40" x2="91.70" y2="419.40" stroke="#ff4646" stroke-width="1.5"/>
<text x="94.90" y="412.94" font-size="8.5" fill="#141414" stroke="#141414" xml:space="preserve"><tspan>ALuc16 x </tspan><tspan font-weight="bold">C6</tspan></text>
<text x="94.90" y="422.14" font-size="8.5" fill="#141414" stroke="#141414" xml:space="preserve"><tspan>NLuc x </tspan><tspan font-weight="bold">S1</tspan></text>
<text transform="translate(64.60,419.54) scale(0.9,1)" x="0" y="0" font-size="9.6" text-anchor="middle" fill="#141414" stroke="#141414">504</text>
<text transform="translate(65.80,499.44) scale(0.9,1)" x="0" y="0" font-size="9.6" text-anchor="middle" fill="#141414" stroke="#141414">507</text>
<path d="M149.8,445.5 L166.1,445.5 L166.1,429.1 L183.2,461.5 L166.1,493.9 L166.1,477.5 L149.8,477.5 Z" fill="#d2d2d2"/>
<text x="150.50" y="464.84" font-size="9.9" text-anchor="start" fill="#141414" stroke="#141414">Unmix</text>
<text transform="translate(204.20,405.89) scale(0.93,1)" x="0" y="0" font-size="8.9" text-anchor="end" fill="#141414" stroke="#141414">3</text>
<text transform="translate(204.20,445.49) scale(0.93,1)" x="0" y="0" font-size="8.9" text-anchor="end" fill="#141414" stroke="#141414">2</text>
<text transform="translate(204.20,485.29) scale(0.93,1)" x="0" y="0" font-size="8.9" text-anchor="end" fill="#141414" stroke="#141414">1</text>
<text transform="translate(204.20,525.09) scale(0.93,1)" x="0" y="0" font-size="8.9" text-anchor="end" fill="#141414" stroke="#141414">0</text>
<text transform="translate(217.70,534.82) scale(0.93,1)" x="0" y="0" font-size="9.0" text-anchor="middle" fill="#141414" stroke="#141414">0</text>
<text transform="translate(238.30,534.82) scale(0.93,1)" x="0" y="0" font-size="9.0" text-anchor="middle" fill="#141414" stroke="#141414">20</text>
<text transform="translate(258.90,534.82) scale(0.93,1)" x="0" y="0" font-size="9.0" text-anchor="middle" fill="#141414" stroke="#141414">40</text>
<text transform="translate(279.50,534.82) scale(0.93,1)" x="0" y="0" font-size="9.0" text-anchor="middle" fill="#141414" stroke="#141414">60</text>
<text transform="translate(300.10,534.82) scale(0.93,1)" x="0" y="0" font-size="9.0" text-anchor="middle" fill="#141414" stroke="#141414">80</text>
<text transform="translate(320.70,534.82) scale(0.93,1)" x="0" y="0" font-size="9.0" text-anchor="middle" fill="#141414" stroke="#141414">100</text>
<text transform="translate(193.39,460.50) rotate(-90)" x="0" y="0" font-size="9.2" text-anchor="middle" fill="#141414" stroke="#141414" font-weight="bold">RLU/sec (x 1 million)</text>
<text x="236.40" y="544.16" font-size="9.1" text-anchor="start" fill="#141414" stroke="#141414" font-weight="bold">Cell amount, %</text>
<text x="209.30" y="399.77" font-size="8.3" text-anchor="start" fill="#141414" stroke="#141414">Live COS-7 cells,</text>
<text x="285.00" y="399.77" font-size="8.3" text-anchor="start" fill="#141414" stroke="#141414">Plate reader</text>
<rect x="207.40" y="403.40" width="123.60" height="119.30" fill="none" stroke="#9e9691" stroke-width="1.3"/>
<line x1="217.30" y1="522.70" x2="321.90" y2="425.00" stroke="#ff1f1f" stroke-width="1.25" stroke-dasharray="2,1.45"/>
<line x1="217.30" y1="522.30" x2="321.00" y2="521.20" stroke="#1f1fff" stroke-width="1.0" stroke-dasharray="2,1.45"/>
<rect x="235.90" y="520.00" width="4.00" height="4.00" fill="#1f1fff"/>
<rect x="256.40" y="519.80" width="4.00" height="4.00" fill="#1f1fff"/>
<rect x="277.00" y="519.50" width="4.00" height="4.00" fill="#1f1fff"/>
<rect x="297.60" y="519.20" width="4.00" height="4.00" fill="#1f1fff"/>
<rect x="318.60" y="519.00" width="4.00" height="4.00" fill="#1f1fff"/>
<circle cx="217.30" cy="522.80" r="2.35" fill="#ff1f1f"/>
<circle cx="237.90" cy="498.90" r="2.35" fill="#ff1f1f"/>
<circle cx="258.40" cy="480.40" r="2.35" fill="#ff1f1f"/>
<circle cx="279.00" cy="461.10" r="2.35" fill="#ff1f1f"/>
<circle cx="299.60" cy="440.60" r="2.35" fill="#ff1f1f"/>
<circle cx="320.60" cy="426.90" r="2.35" fill="#ff1f1f"/>
<line x1="299.60" y1="437.50" x2="299.60" y2="436.00" stroke="#ff1f1f" stroke-width="0.8"/>
<rect x="216.85" y="413.65" width="3.50" height="3.50" fill="#1f1fff"/>
<circle cx="218.60" cy="425.10" r="2.45" fill="#ff1f1f"/>
<text x="222.70" y="418.21" font-size="8.4" text-anchor="start" fill="#141414" stroke="#141414">ALuc16</text>
<text x="222.70" y="427.91" font-size="8.4" text-anchor="start" fill="#141414" stroke="#141414">NLuc</text>
<path d="M252.60,413.40 Q256.00,413.40 256.00,416.20 L256.00,419.10 Q256.00,420.70 257.80,420.70 Q256.00,420.70 256.00,422.30 L256.00,425.20 Q256.00,428.00 252.60,428.00" fill="none" stroke="#5a4e48" stroke-width="0.85"/>
<text x="259.20" y="424.65" font-size="8.8" text-anchor="start" fill="#141414" stroke="#141414" font-weight="bold">S1</text>
<text x="285.60" y="417.97" font-size="8.3" text-anchor="start" fill="#ff1f1f" stroke="#ff1f1f" stroke-width="0.12">R² = 0.995</text>
<text x="248.70" y="512.87" font-size="8.3" text-anchor="start" fill="#1f1fff" stroke="#1f1fff" stroke-width="0.12">R² = 0.997</text>
<text x="286.70" y="478.74" font-size="8.2" text-anchor="start" fill="#0fb83a" stroke="#0fb83a" stroke-width="0.12">948-fold</text>
<line x1="319.80" y1="433.30" x2="319.80" y2="514.60" stroke="#12d040" stroke-width="1.4"/>
<path d="M317.20,436.50 L319.80,432.30 L322.40,436.50" fill="none" stroke="#12d040" stroke-width="1.3"/>
<path d="M317.20,511.40 L319.80,515.60 L322.40,511.40" fill="none" stroke="#12d040" stroke-width="1.3"/>
<text transform="translate(375.40,433.69) scale(0.93,1)" x="0" y="0" font-size="8.9" text-anchor="end" fill="#141414" stroke="#141414">10</text>
<text transform="translate(375.40,479.59) scale(0.93,1)" x="0" y="0" font-size="8.9" text-anchor="end" fill="#141414" stroke="#141414">5</text>
<text transform="translate(375.40,525.59) scale(0.93,1)" x="0" y="0" font-size="8.9" text-anchor="end" fill="#141414" stroke="#141414">0</text>
<text transform="translate(388.55,534.82) scale(0.93,1)" x="0" y="0" font-size="9.0" text-anchor="middle" fill="#141414" stroke="#141414">0</text>
<text transform="translate(409.25,534.82) scale(0.93,1)" x="0" y="0" font-size="9.0" text-anchor="middle" fill="#141414" stroke="#141414">20</text>
<text transform="translate(429.95,534.82) scale(0.93,1)" x="0" y="0" font-size="9.0" text-anchor="middle" fill="#141414" stroke="#141414">40</text>
<text transform="translate(450.65,534.82) scale(0.93,1)" x="0" y="0" font-size="9.0" text-anchor="middle" fill="#141414" stroke="#141414">60</text>
<text transform="translate(471.35,534.82) scale(0.93,1)" x="0" y="0" font-size="9.0" text-anchor="middle" fill="#141414" stroke="#141414">80</text>
<text transform="translate(492.05,534.82) scale(0.93,1)" x="0" y="0" font-size="9.0" text-anchor="middle" fill="#141414" stroke="#141414">100</text>
<text transform="translate(361.99,461.10) rotate(-90)" x="0" y="0" font-size="9.2" text-anchor="middle" fill="#141414" stroke="#141414" font-weight="bold">RLU/sec (x 1 million)</text>
<text x="408.20" y="544.16" font-size="9.1" text-anchor="start" fill="#141414" stroke="#141414" font-weight="bold">Cell amount, %</text>
<text x="380.90" y="399.97" font-size="8.3" text-anchor="start" fill="#141414" stroke="#141414">Live COS-7 cells,</text>
<text x="456.60" y="399.77" font-size="8.3" text-anchor="start" fill="#141414" stroke="#141414">Plate reader</text>
<rect x="378.20" y="403.40" width="124.20" height="119.80" fill="none" stroke="#9e9691" stroke-width="1.3"/>
<line x1="388.30" y1="522.80" x2="492.90" y2="425.70" stroke="#1f1fff" stroke-width="1.25" stroke-dasharray="2,1.45"/>
<line x1="388.30" y1="523.20" x2="492.00" y2="523.20" stroke="#ff1f1f" stroke-width="1.0" stroke-dasharray="2,1.45"/>
<rect x="406.90" y="500.20" width="4.00" height="4.00" fill="#1f1fff"/>
<rect x="428.00" y="479.70" width="4.00" height="4.00" fill="#1f1fff"/>
<rect x="448.50" y="462.20" width="4.00" height="4.00" fill="#1f1fff"/>
<rect x="469.10" y="445.00" width="4.00" height="4.00" fill="#1f1fff"/>
<rect x="490.10" y="425.20" width="4.00" height="4.00" fill="#1f1fff"/>
<line x1="430.00" y1="479.50" x2="430.00" y2="477.20" stroke="#1f1fff" stroke-width="0.8"/>
<line x1="428.80" y1="477.20" x2="431.20" y2="477.20" stroke="#1f1fff" stroke-width="0.8"/>
<line x1="492.10" y1="425.20" x2="492.10" y2="424.40" stroke="#1f1fff" stroke-width="0.8"/>
<circle cx="388.30" cy="523.30" r="2.35" fill="#ff1f1f"/>
<circle cx="408.90" cy="523.30" r="2.35" fill="#ff1f1f"/>
<circle cx="430.00" cy="523.30" r="2.35" fill="#ff1f1f"/>
<circle cx="450.50" cy="523.30" r="2.35" fill="#ff1f1f"/>
<circle cx="471.10" cy="523.30" r="2.35" fill="#ff1f1f"/>
<circle cx="492.10" cy="523.30" r="2.35" fill="#ff1f1f"/>
<rect x="389.85" y="413.65" width="3.50" height="3.50" fill="#1f1fff"/>
<circle cx="391.60" cy="425.10" r="2.45" fill="#ff1f1f"/>
<text x="395.70" y="418.41" font-size="8.4" text-anchor="start" fill="#141414" stroke="#141414">ALuc16</text>
<text x="395.70" y="428.01" font-size="8.4" text-anchor="start" fill="#141414" stroke="#141414">NLuc</text>
<path d="M426.00,413.40 Q429.40,413.40 429.40,416.20 L429.40,419.10 Q429.40,420.70 431.20,420.70 Q429.40,420.70 429.40,422.30 L429.40,425.20 Q429.40,428.00 426.00,428.00" fill="none" stroke="#5a4e48" stroke-width="0.85"/>
<text x="432.80" y="424.75" font-size="8.8" text-anchor="start" fill="#141414" stroke="#141414" font-weight="bold">C6</text>
<text x="457.80" y="419.57" font-size="8.3" text-anchor="start" fill="#1f1fff" stroke="#1f1fff" stroke-width="0.12">R² = 0.998</text>
<text x="422.20" y="515.47" font-size="8.3" text-anchor="start" fill="#ff1f1f" stroke="#ff1f1f" stroke-width="0.12">R² = 0.978</text>
<text x="463.90" y="482.84" font-size="8.2" text-anchor="start" fill="#0fb83a" stroke="#0fb83a" stroke-width="0.12">54-fold</text>
<line x1="492.10" y1="436.40" x2="492.10" y2="516.10" stroke="#12d040" stroke-width="1.4"/>
<path d="M489.50,439.60 L492.10,435.40 L494.70,439.60" fill="none" stroke="#12d040" stroke-width="1.3"/>
<path d="M489.50,512.90 L492.10,517.10 L494.70,512.90" fill="none" stroke="#12d040" stroke-width="1.3"/>
</g>
</svg>
</body></html>
